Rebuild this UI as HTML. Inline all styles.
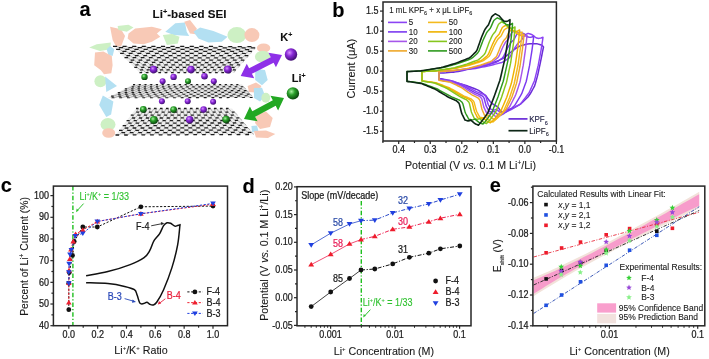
<!DOCTYPE html><html><head><meta charset="utf-8"><style>html,body{margin:0;padding:0;background:#fff;width:709px;height:359px;overflow:hidden;position:relative} svg{filter:blur(0.35px)}</style></head><body><svg width="709" height="359" viewBox="0 0 709 359" style="position:absolute;left:0;top:0">
<defs>
<radialGradient id="gp" cx="0.38" cy="0.35" r="0.7"><stop offset="0" stop-color="#d890ff"/><stop offset="0.4" stop-color="#8a2ad8"/><stop offset="1" stop-color="#3a0a6a"/></radialGradient>
<radialGradient id="gg" cx="0.38" cy="0.35" r="0.7"><stop offset="0" stop-color="#a8f0a0"/><stop offset="0.4" stop-color="#2aa02a"/><stop offset="1" stop-color="#053a08"/></radialGradient>
</defs>
<g font-family='"Liberation Sans", sans-serif'>
<text x="79.50" y="16.30"  font-size="20" text-anchor="start" fill="#000" stroke="#000" stroke-width="0.1" font-weight="bold" >a</text>
<text x="332.30" y="16.70"  font-size="20" text-anchor="start" fill="#000" stroke="#000" stroke-width="0.1" font-weight="bold" >b</text>
<text x="0.80" y="191.70"  font-size="20" text-anchor="start" fill="#000" stroke="#000" stroke-width="0.1" font-weight="bold" >c</text>
<text x="242.50" y="193.00"  font-size="20" text-anchor="start" fill="#000" stroke="#000" stroke-width="0.1" font-weight="bold" >d</text>
<text x="489.80" y="191.70"  font-size="20" text-anchor="start" fill="#000" stroke="#000" stroke-width="0.1" font-weight="bold" >e</text>
<path d="M110.10,26.70 L121.00,29.20 L125.10,35.90 L121.00,46.80 L117.60,49.30 L112.60,40.10 Z" fill="#f8c9b6" stroke="none" stroke-width="1" stroke-linejoin="round"/>
<path d="M117.60,25.90 L128.50,24.70 L133.50,27.50 L126.80,31.70 L118.40,30.00 Z" fill="#cdf0c4" stroke="none" stroke-width="1" stroke-linejoin="round"/>
<path d="M128.50,33.40 L135.20,28.40 L151.90,26.70 L161.90,29.20 L156.90,33.40 L160.30,36.70 L151.90,41.70 L143.50,44.20 L133.50,43.40 L127.60,38.40 Z" fill="#f8c9b6" stroke="none" stroke-width="1" stroke-linejoin="round"/>
<path d="M165.30,31.70 L175.30,23.30 L185.00,22.50 L186.70,31.70 L189.20,35.90 L173.60,35.00 Z" fill="#b3e0f2" stroke="none" stroke-width="1" stroke-linejoin="round"/>
<path d="M162.80,35.00 L172.00,34.00 L179.50,36.70 L177.80,43.40 L166.90,45.10 Z" fill="#cdf0c4" stroke="none" stroke-width="1" stroke-linejoin="round"/>
<path d="M89.20,47.60 L96.70,44.20 L110.90,42.60 L110.10,49.30 L100.00,50.90 Z" fill="#cdf0c4" stroke="none" stroke-width="1" stroke-linejoin="round"/>
<path d="M106.70,49.30 L110.10,45.90 L114.30,49.30 L112.60,56.00 L108.40,55.10 Z" fill="#b3e0f2" stroke="none" stroke-width="1" stroke-linejoin="round"/>
<path d="M95.00,52.60 L103.40,51.60 L111.80,56.00 L112.60,65.20 L111.30,73.30 L104.00,74.20 L100.90,70.20 L94.20,65.20 Z" fill="#f8c9b6" stroke="none" stroke-width="1" stroke-linejoin="round"/>
<path d="M184.20,21.70 L190.00,20.00 L196.70,28.40 L195.90,34.20 L190.00,33.40 Z" fill="#f8c9b6" stroke="none" stroke-width="1" stroke-linejoin="round"/>
<path d="M193.40,31.70 L200.10,27.50 L213.40,30.90 L227.70,36.70 L221.80,41.80 L208.40,42.60 L198.40,38.40 Z" fill="#b3e0f2" stroke="none" stroke-width="1" stroke-linejoin="round"/>
<ellipse cx="236.9" cy="35.1" rx="9.5" ry="8" fill="#cdf0c4"/>
<ellipse cx="251.9" cy="35.1" rx="7.5" ry="7" fill="#f8c9b6"/>
<ellipse cx="263.6" cy="48.1" rx="6.7" ry="4.6" fill="#f8c9b6"/>
<ellipse cx="262.8" cy="56.8" rx="7.9" ry="6" fill="#cdf0c4"/>
<path d="M255.20,68.80 L265.00,70.00 L267.70,80.00 L262.00,85.20 L255.20,80.00 Z" fill="#b3e0f2" stroke="none" stroke-width="1" stroke-linejoin="round"/>
<path d="M247.60,86.00 L256.00,82.60 L261.40,86.00 L258.00,92.70 L249.00,92.00 Z" fill="#f8c9b6" stroke="none" stroke-width="1" stroke-linejoin="round"/>
<path d="M253.90,88.00 L262.00,87.70 L265.20,96.00 L260.00,101.50 L254.00,98.00 Z" fill="#b3e0f2" stroke="none" stroke-width="1" stroke-linejoin="round"/>
<ellipse cx="265.8" cy="97.7" rx="4.4" ry="5" fill="#cdf0c4"/>
<path d="M256.40,115.00 L266.00,111.50 L272.70,118.00 L270.00,127.00 L260.00,129.10 L255.00,123.00 Z" fill="#f8c9b6" stroke="none" stroke-width="1" stroke-linejoin="round"/>
<path d="M251.40,126.00 L257.00,125.40 L258.90,132.90 L252.00,132.00 Z" fill="#b3e0f2" stroke="none" stroke-width="1" stroke-linejoin="round"/>
<path d="M253.90,131.00 L266.00,130.40 L275.30,134.00 L268.00,137.90 L256.00,137.50 Z" fill="#f8c9b6" stroke="none" stroke-width="1" stroke-linejoin="round"/>
<ellipse cx="100.4" cy="81.3" rx="6" ry="6" fill="#cdf0c4"/>
<path d="M105.10,76.60 L117.00,86.10 L106.30,92.00 Z" fill="#b3e0f2" stroke="none" stroke-width="1" stroke-linejoin="round"/>
<path d="M102.80,95.50 L113.40,101.50 L111.10,114.50 L106.30,116.90 L99.20,105.00 Z" fill="#b3e0f2" stroke="none" stroke-width="1" stroke-linejoin="round"/>
<ellipse cx="108" cy="124.5" rx="7.5" ry="6.5" fill="#cdf0c4"/>
<ellipse cx="108.7" cy="133" rx="6.5" ry="4.8" fill="#f8c9b6"/>
<path d="M113.00,46.30 L257.00,46.50 L234.00,72.50 L139.50,72.50 Z" fill="#ededed" stroke="none" stroke-width="1" />
<path d="M117.0,46.3 L119.1,47.6 M126.6,46.3 L128.5,47.6 M122.6,46.3 L123.0,47.6 M136.2,46.3 L137.9,47.7 M132.2,46.3 L132.5,47.7 M145.8,46.3 L147.4,47.7 M141.8,46.3 L141.9,47.7 M155.4,46.4 L156.8,47.7 M151.4,46.4 L151.3,47.7 M165.0,46.4 L166.2,47.7 M161.0,46.4 L160.8,47.7 M174.6,46.4 L175.7,47.7 M170.6,46.4 L170.2,47.7 M184.2,46.4 L185.1,47.7 M180.2,46.4 L179.6,47.7 M193.8,46.4 L194.5,47.7 M189.8,46.4 L189.1,47.7 M203.4,46.4 L204.0,47.7 M199.4,46.4 L198.5,47.7 M213.0,46.4 L213.4,47.8 M209.0,46.4 L207.9,47.8 M222.6,46.5 L222.8,47.8 M218.6,46.4 L217.3,47.8 M232.2,46.5 L232.3,47.8 M228.2,46.5 L226.8,47.8 M241.8,46.5 L241.7,47.8 M237.8,46.5 L236.2,47.8 M251.4,46.5 L251.1,47.8 M247.4,46.5 L245.6,47.8 M123.0,47.6 L125.3,49.4 M119.1,47.6 L120.0,49.4 M132.5,47.7 L134.5,49.4 M128.5,47.6 L129.2,49.4 M141.9,47.7 L143.7,49.4 M137.9,47.7 L138.4,49.4 M151.3,47.7 L152.9,49.4 M147.4,47.7 L147.6,49.4 M160.8,47.7 L162.2,49.4 M156.8,47.7 L156.8,49.4 M170.2,47.7 L171.4,49.4 M166.2,47.7 L166.0,49.4 M179.6,47.7 L180.6,49.4 M175.7,47.7 L175.3,49.4 M189.1,47.7 L189.8,49.4 M185.1,47.7 L184.5,49.4 M198.5,47.7 L199.0,49.5 M194.5,47.7 L193.7,49.5 M207.9,47.8 L208.2,49.5 M204.0,47.7 L202.9,49.5 M217.3,47.8 L217.5,49.5 M213.4,47.8 L212.1,49.5 M226.8,47.8 L226.7,49.5 M222.8,47.8 L221.3,49.5 M236.2,47.8 L235.9,49.5 M232.3,47.8 L230.5,49.5 M245.6,47.8 L245.1,49.5 M241.7,47.8 L239.8,49.5 M255.1,47.8 L254.3,49.5 M251.1,47.8 L249.0,49.5 M120.0,49.4 L122.5,51.3 M129.2,49.4 L131.5,51.3 M125.3,49.4 L126.3,51.3 M138.4,49.4 L140.5,51.3 M134.5,49.4 L135.3,51.3 M147.6,49.4 L149.4,51.3 M143.7,49.4 L144.2,51.3 M156.8,49.4 L158.4,51.3 M152.9,49.4 L153.2,51.3 M166.0,49.4 L167.4,51.3 M162.2,49.4 L162.2,51.3 M175.3,49.4 L176.4,51.3 M171.4,49.4 L171.2,51.3 M184.5,49.4 L185.3,51.3 M180.6,49.4 L180.1,51.3 M193.7,49.5 L194.3,51.4 M189.8,49.4 L189.1,51.3 M202.9,49.5 L203.3,51.4 M199.0,49.5 L198.1,51.4 M212.1,49.5 L212.3,51.4 M208.2,49.5 L207.1,51.4 M221.3,49.5 L221.2,51.4 M217.5,49.5 L216.0,51.4 M230.5,49.5 L230.2,51.4 M226.7,49.5 L225.0,51.4 M239.8,49.5 L239.2,51.4 M235.9,49.5 L234.0,51.4 M249.0,49.5 L248.2,51.4 M245.1,49.5 L242.9,51.4 M126.3,51.3 L128.8,53.3 M122.5,51.3 L123.8,53.3 M135.3,51.3 L137.5,53.3 M131.5,51.3 L132.5,53.3 M144.2,51.3 L146.2,53.3 M140.5,51.3 L141.2,53.3 M153.2,51.3 L155.0,53.3 M149.4,51.3 L149.9,53.3 M162.2,51.3 L163.7,53.4 M158.4,51.3 L158.6,53.4 M171.2,51.3 L172.4,53.4 M167.4,51.3 L167.3,53.4 M180.1,51.3 L181.1,53.4 M176.4,51.3 L176.1,53.4 M189.1,51.3 L189.8,53.4 M185.3,51.3 L184.8,53.4 M198.1,51.4 L198.5,53.4 M194.3,51.4 L193.5,53.4 M207.1,51.4 L207.3,53.4 M203.3,51.4 L202.2,53.4 M216.0,51.4 L216.0,53.4 M212.3,51.4 L210.9,53.4 M225.0,51.4 L224.7,53.4 M221.2,51.4 L219.6,53.4 M234.0,51.4 L233.4,53.4 M230.2,51.4 L228.4,53.4 M242.9,51.4 L242.1,53.4 M239.2,51.4 L237.1,53.4 M251.9,51.4 L250.8,53.5 M248.2,51.4 L245.8,53.5 M123.8,53.3 L126.5,55.5 M132.5,53.3 L134.9,55.5 M128.8,53.3 L130.0,55.5 M141.2,53.3 L143.4,55.5 M137.5,53.3 L138.5,55.5 M149.9,53.3 L151.8,55.5 M146.2,53.3 L146.9,55.5 M158.6,53.4 L160.3,55.5 M155.0,53.3 L155.4,55.5 M167.3,53.4 L168.7,55.5 M163.7,53.4 L163.8,55.5 M176.1,53.4 L177.2,55.5 M172.4,53.4 L172.3,55.5 M184.8,53.4 L185.6,55.5 M181.1,53.4 L180.7,55.5 M193.5,53.4 L194.1,55.5 M189.8,53.4 L189.2,55.5 M202.2,53.4 L202.5,55.5 M198.5,53.4 L197.6,55.5 M210.9,53.4 L210.9,55.6 M207.3,53.4 L206.1,55.5 M219.6,53.4 L219.4,55.6 M216.0,53.4 L214.5,55.6 M228.4,53.4 L227.8,55.6 M224.7,53.4 L222.9,55.6 M237.1,53.4 L236.3,55.6 M233.4,53.4 L231.4,55.6 M245.8,53.5 L244.7,55.6 M242.1,53.4 L239.8,55.6 M130.0,55.5 L132.7,57.7 M126.5,55.5 L128.0,57.7 M138.5,55.5 L140.9,57.7 M134.9,55.5 L136.1,57.7 M146.9,55.5 L149.0,57.7 M143.4,55.5 L144.3,57.7 M155.4,55.5 L157.2,57.7 M151.8,55.5 L152.5,57.7 M163.8,55.5 L165.4,57.7 M160.3,55.5 L160.6,57.7 M172.3,55.5 L173.5,57.7 M168.7,55.5 L168.8,57.7 M180.7,55.5 L181.7,57.8 M177.2,55.5 L176.9,57.8 M189.2,55.5 L189.8,57.8 M185.6,55.5 L185.1,57.8 M197.6,55.5 L198.0,57.8 M194.1,55.5 L193.3,57.8 M206.1,55.5 L206.2,57.8 M202.5,55.5 L201.4,57.8 M214.5,55.6 L214.3,57.8 M210.9,55.6 L209.6,57.8 M222.9,55.6 L222.5,57.8 M219.4,55.6 L217.8,57.8 M231.4,55.6 L230.7,57.8 M227.8,55.6 L225.9,57.8 M239.8,55.6 L238.8,57.8 M236.3,55.6 L234.1,57.8 M248.3,55.6 L247.0,57.8 M244.7,55.6 L242.3,57.8 M128.0,57.7 L130.8,60.0 M136.1,57.7 L138.7,60.0 M132.7,57.7 L134.1,60.0 M144.3,57.7 L146.6,60.0 M140.9,57.7 L142.0,60.0 M152.5,57.7 L154.4,60.0 M149.0,57.7 L149.9,60.0 M160.6,57.7 L162.3,60.1 M157.2,57.7 L157.7,60.0 M168.8,57.7 L170.2,60.1 M165.4,57.7 L165.6,60.1 M176.9,57.8 L178.0,60.1 M173.5,57.7 L173.5,60.1 M185.1,57.8 L185.9,60.1 M181.7,57.8 L181.4,60.1 M193.3,57.8 L193.8,60.1 M189.8,57.8 L189.2,60.1 M201.4,57.8 L201.7,60.1 M198.0,57.8 L197.1,60.1 M209.6,57.8 L209.5,60.1 M206.2,57.8 L205.0,60.1 M217.8,57.8 L217.4,60.1 M214.3,57.8 L212.8,60.1 M225.9,57.8 L225.3,60.1 M222.5,57.8 L220.7,60.1 M234.1,57.8 L233.1,60.1 M230.7,57.8 L228.6,60.1 M242.3,57.8 L241.0,60.1 M238.8,57.8 L236.5,60.1 M134.1,60.0 L136.9,62.4 M130.8,60.0 L132.5,62.4 M142.0,60.0 L144.4,62.4 M138.7,60.0 L140.0,62.4 M149.9,60.0 L152.0,62.4 M146.6,60.0 L147.6,62.4 M157.7,60.0 L159.6,62.4 M154.4,60.0 L155.2,62.4 M165.6,60.1 L167.1,62.4 M162.3,60.1 L162.8,62.4 M173.5,60.1 L174.7,62.4 M170.2,60.1 L170.3,62.4 M181.4,60.1 L182.3,62.4 M178.0,60.1 L177.9,62.4 M189.2,60.1 L189.9,62.4 M185.9,60.1 L185.5,62.4 M197.1,60.1 L197.4,62.5 M193.8,60.1 L193.0,62.4 M205.0,60.1 L205.0,62.5 M201.7,60.1 L200.6,62.5 M212.8,60.1 L212.6,62.5 M209.5,60.1 L208.2,62.5 M220.7,60.1 L220.1,62.5 M217.4,60.1 L215.8,62.5 M228.6,60.1 L227.7,62.5 M225.3,60.1 L223.3,62.5 M236.5,60.1 L235.3,62.5 M233.1,60.1 L230.9,62.5 M244.3,60.1 L242.9,62.5 M241.0,60.1 L238.5,62.5 M132.5,62.4 L135.4,64.9 M140.0,62.4 L142.7,64.9 M136.9,62.4 L138.4,64.9 M147.6,62.4 L149.9,64.9 M144.4,62.4 L145.7,64.9 M155.2,62.4 L157.2,64.9 M152.0,62.4 L153.0,64.9 M162.8,62.4 L164.4,64.9 M159.6,62.4 L160.2,64.9 M170.3,62.4 L171.7,64.9 M167.1,62.4 L167.5,64.9 M177.9,62.4 L179.0,64.9 M174.7,62.4 L174.8,64.9 M185.5,62.4 L186.2,64.9 M182.3,62.4 L182.0,64.9 M193.0,62.4 L193.5,64.9 M189.9,62.4 L189.3,64.9 M200.6,62.5 L200.8,64.9 M197.4,62.5 L196.6,64.9 M208.2,62.5 L208.0,64.9 M205.0,62.5 L203.8,64.9 M215.8,62.5 L215.3,64.9 M212.6,62.5 L211.1,64.9 M223.3,62.5 L222.6,64.9 M220.1,62.5 L218.3,64.9 M230.9,62.5 L229.8,64.9 M227.7,62.5 L225.6,64.9 M238.5,62.5 L237.1,64.9 M235.3,62.5 L232.9,64.9 M138.4,64.9 L141.2,67.4 M135.4,64.9 L137.2,67.4 M145.7,64.9 L148.2,67.4 M142.7,64.9 L144.2,67.4 M153.0,64.9 L155.1,67.4 M149.9,64.9 L151.1,67.4 M160.2,64.9 L162.1,67.4 M157.2,64.9 L158.1,67.4 M167.5,64.9 L169.0,67.4 M164.4,64.9 L165.0,67.4 M174.8,64.9 L176.0,67.4 M171.7,64.9 L172.0,67.4 M182.0,64.9 L182.9,67.4 M179.0,64.9 L178.9,67.4 M189.3,64.9 L189.9,67.4 M186.2,64.9 L185.9,67.4 M196.6,64.9 L196.8,67.4 M193.5,64.9 L192.8,67.4 M203.8,64.9 L203.8,67.4 M200.8,64.9 L199.7,67.4 M211.1,64.9 L210.7,67.4 M208.0,64.9 L206.7,67.4 M218.3,64.9 L217.7,67.4 M215.3,64.9 L213.6,67.4 M225.6,64.9 L224.6,67.4 M222.6,64.9 L220.6,67.4 M232.9,64.9 L231.6,67.4 M229.8,64.9 L227.5,67.4 M240.1,64.9 L238.5,67.4 M237.1,64.9 L234.5,67.4 M137.2,67.4 L140.2,69.9 M144.2,67.4 L146.8,69.9 M141.2,67.4 L143.0,69.9 M151.1,67.4 L153.4,69.9 M148.2,67.4 L149.6,69.9 M158.1,67.4 L160.1,69.9 M155.1,67.4 L156.2,69.9 M165.0,67.4 L166.7,69.9 M162.1,67.4 L162.9,69.9 M172.0,67.4 L173.3,69.9 M169.0,67.4 L169.5,69.9 M178.9,67.4 L179.9,69.9 M176.0,67.4 L176.1,69.9 M185.9,67.4 L186.6,69.9 M182.9,67.4 L182.7,69.9 M192.8,67.4 L193.2,69.9 M189.9,67.4 L189.4,69.9 M199.7,67.4 L199.8,69.9 M196.8,67.4 L196.0,69.9 M206.7,67.4 L206.5,69.9 M203.8,67.4 L202.6,69.9 M213.6,67.4 L213.1,69.9 M210.7,67.4 L209.2,69.9 M220.6,67.4 L219.7,69.9 M217.7,67.4 L215.9,69.9 M227.5,67.4 L226.3,69.9 M224.6,67.4 L222.5,69.9 M234.5,67.4 L233.0,69.9 M231.6,67.4 L229.1,69.9 M143.0,69.9 L145.8,72.5 M140.2,69.9 L142.1,72.5 M149.6,69.9 L152.1,72.5 M146.8,69.9 L148.4,72.5 M156.2,69.9 L158.4,72.5 M153.4,69.9 L154.7,72.5 M162.9,69.9 L164.7,72.5 M160.1,69.9 L161.0,72.5 M169.5,69.9 L171.0,72.5 M166.7,69.9 L167.3,72.5 M176.1,69.9 L177.3,72.5 M173.3,69.9 L173.6,72.5 M182.7,69.9 L183.6,72.5 M179.9,69.9 L179.9,72.5 M189.4,69.9 L189.9,72.5 M186.6,69.9 L186.2,72.5 M196.0,69.9 L196.2,72.5 M193.2,69.9 L192.5,72.5 M202.6,69.9 L202.5,72.5 M199.8,69.9 L198.8,72.5 M209.2,69.9 L208.8,72.5 M206.5,69.9 L205.1,72.5 M215.9,69.9 L215.1,72.5 M213.1,69.9 L211.4,72.5 M222.5,69.9 L221.4,72.5 M219.7,69.9 L217.7,72.5 M229.1,69.9 L227.7,72.5 M226.3,69.9 L224.0,72.5 M235.8,69.9 L234.0,72.5 M233.0,69.9 L230.3,72.5" fill="none" stroke="#707070" stroke-width="0.5"/>
<path d="M113.0,46.3 L117.0,46.3 M122.6,46.3 L126.6,46.3 M132.2,46.3 L136.2,46.3 M141.8,46.3 L145.8,46.3 M151.4,46.4 L155.4,46.4 M161.0,46.4 L165.0,46.4 M170.6,46.4 L174.6,46.4 M180.2,46.4 L184.2,46.4 M189.8,46.4 L193.8,46.4 M199.4,46.4 L203.4,46.4 M209.0,46.4 L213.0,46.4 M218.6,46.4 L222.6,46.5 M228.2,46.5 L232.2,46.5 M237.8,46.5 L241.8,46.5 M247.4,46.5 L251.4,46.5 M119.1,47.6 L123.0,47.6 M128.5,47.6 L132.5,47.7 M137.9,47.7 L141.9,47.7 M147.4,47.7 L151.3,47.7 M156.8,47.7 L160.8,47.7 M166.2,47.7 L170.2,47.7 M175.7,47.7 L179.6,47.7 M185.1,47.7 L189.1,47.7 M194.5,47.7 L198.5,47.7 M204.0,47.7 L207.9,47.8 M213.4,47.8 L217.3,47.8 M222.8,47.8 L226.8,47.8 M232.3,47.8 L236.2,47.8 M241.7,47.8 L245.6,47.8 M251.1,47.8 L255.1,47.8 M116.1,49.4 L120.0,49.4 M125.3,49.4 L129.2,49.4 M134.5,49.4 L138.4,49.4 M143.7,49.4 L147.6,49.4 M152.9,49.4 L156.8,49.4 M162.2,49.4 L166.0,49.4 M171.4,49.4 L175.3,49.4 M180.6,49.4 L184.5,49.4 M189.8,49.4 L193.7,49.5 M199.0,49.5 L202.9,49.5 M208.2,49.5 L212.1,49.5 M217.5,49.5 L221.3,49.5 M226.7,49.5 L230.5,49.5 M235.9,49.5 L239.8,49.5 M245.1,49.5 L249.0,49.5 M122.5,51.3 L126.3,51.3 M131.5,51.3 L135.3,51.3 M140.5,51.3 L144.2,51.3 M149.4,51.3 L153.2,51.3 M158.4,51.3 L162.2,51.3 M167.4,51.3 L171.2,51.3 M176.4,51.3 L180.1,51.3 M185.3,51.3 L189.1,51.3 M194.3,51.4 L198.1,51.4 M203.3,51.4 L207.1,51.4 M212.3,51.4 L216.0,51.4 M221.2,51.4 L225.0,51.4 M230.2,51.4 L234.0,51.4 M239.2,51.4 L242.9,51.4 M248.2,51.4 L251.9,51.4 M120.1,53.3 L123.8,53.3 M128.8,53.3 L132.5,53.3 M137.5,53.3 L141.2,53.3 M146.2,53.3 L149.9,53.3 M155.0,53.3 L158.6,53.4 M163.7,53.4 L167.3,53.4 M172.4,53.4 L176.1,53.4 M181.1,53.4 L184.8,53.4 M189.8,53.4 L193.5,53.4 M198.5,53.4 L202.2,53.4 M207.3,53.4 L210.9,53.4 M216.0,53.4 L219.6,53.4 M224.7,53.4 L228.4,53.4 M233.4,53.4 L237.1,53.4 M242.1,53.4 L245.8,53.5 M126.5,55.5 L130.0,55.5 M134.9,55.5 L138.5,55.5 M143.4,55.5 L146.9,55.5 M151.8,55.5 L155.4,55.5 M160.3,55.5 L163.8,55.5 M168.7,55.5 L172.3,55.5 M177.2,55.5 L180.7,55.5 M185.6,55.5 L189.2,55.5 M194.1,55.5 L197.6,55.5 M202.5,55.5 L206.1,55.5 M210.9,55.6 L214.5,55.6 M219.4,55.6 L222.9,55.6 M227.8,55.6 L231.4,55.6 M236.3,55.6 L239.8,55.6 M244.7,55.6 L248.3,55.6 M124.5,57.7 L128.0,57.7 M132.7,57.7 L136.1,57.7 M140.9,57.7 L144.3,57.7 M149.0,57.7 L152.5,57.7 M157.2,57.7 L160.6,57.7 M165.4,57.7 L168.8,57.7 M173.5,57.7 L176.9,57.8 M181.7,57.8 L185.1,57.8 M189.8,57.8 L193.3,57.8 M198.0,57.8 L201.4,57.8 M206.2,57.8 L209.6,57.8 M214.3,57.8 L217.8,57.8 M222.5,57.8 L225.9,57.8 M230.7,57.8 L234.1,57.8 M238.8,57.8 L242.3,57.8 M130.8,60.0 L134.1,60.0 M138.7,60.0 L142.0,60.0 M146.6,60.0 L149.9,60.0 M154.4,60.0 L157.7,60.0 M162.3,60.1 L165.6,60.1 M170.2,60.1 L173.5,60.1 M178.0,60.1 L181.4,60.1 M185.9,60.1 L189.2,60.1 M193.8,60.1 L197.1,60.1 M201.7,60.1 L205.0,60.1 M209.5,60.1 L212.8,60.1 M217.4,60.1 L220.7,60.1 M225.3,60.1 L228.6,60.1 M233.1,60.1 L236.5,60.1 M241.0,60.1 L244.3,60.1 M129.3,62.4 L132.5,62.4 M136.9,62.4 L140.0,62.4 M144.4,62.4 L147.6,62.4 M152.0,62.4 L155.2,62.4 M159.6,62.4 L162.8,62.4 M167.1,62.4 L170.3,62.4 M174.7,62.4 L177.9,62.4 M182.3,62.4 L185.5,62.4 M189.9,62.4 L193.0,62.4 M197.4,62.5 L200.6,62.5 M205.0,62.5 L208.2,62.5 M212.6,62.5 L215.8,62.5 M220.1,62.5 L223.3,62.5 M227.7,62.5 L230.9,62.5 M235.3,62.5 L238.5,62.5 M135.4,64.9 L138.4,64.9 M142.7,64.9 L145.7,64.9 M149.9,64.9 L153.0,64.9 M157.2,64.9 L160.2,64.9 M164.4,64.9 L167.5,64.9 M171.7,64.9 L174.8,64.9 M179.0,64.9 L182.0,64.9 M186.2,64.9 L189.3,64.9 M193.5,64.9 L196.6,64.9 M200.8,64.9 L203.8,64.9 M208.0,64.9 L211.1,64.9 M215.3,64.9 L218.3,64.9 M222.6,64.9 L225.6,64.9 M229.8,64.9 L232.9,64.9 M237.1,64.9 L240.1,64.9 M134.3,67.4 L137.2,67.4 M141.2,67.4 L144.2,67.4 M148.2,67.4 L151.1,67.4 M155.1,67.4 L158.1,67.4 M162.1,67.4 L165.0,67.4 M169.0,67.4 L172.0,67.4 M176.0,67.4 L178.9,67.4 M182.9,67.4 L185.9,67.4 M189.9,67.4 L192.8,67.4 M196.8,67.4 L199.7,67.4 M203.8,67.4 L206.7,67.4 M210.7,67.4 L213.6,67.4 M217.7,67.4 L220.6,67.4 M224.6,67.4 L227.5,67.4 M231.6,67.4 L234.5,67.4 M140.2,69.9 L143.0,69.9 M146.8,69.9 L149.6,69.9 M153.4,69.9 L156.2,69.9 M160.1,69.9 L162.9,69.9 M166.7,69.9 L169.5,69.9 M173.3,69.9 L176.1,69.9 M179.9,69.9 L182.7,69.9 M186.6,69.9 L189.4,69.9 M193.2,69.9 L196.0,69.9 M199.8,69.9 L202.6,69.9 M206.5,69.9 L209.2,69.9 M213.1,69.9 L215.9,69.9 M219.7,69.9 L222.5,69.9 M226.3,69.9 L229.1,69.9 M233.0,69.9 L235.8,69.9 M139.5,72.5 L142.1,72.5 M145.8,72.5 L148.4,72.5 M152.1,72.5 L154.7,72.5 M158.4,72.5 L161.0,72.5 M164.7,72.5 L167.3,72.5 M171.0,72.5 L173.6,72.5 M177.3,72.5 L179.9,72.5 M183.6,72.5 L186.2,72.5 M189.9,72.5 L192.5,72.5 M196.2,72.5 L198.8,72.5 M202.5,72.5 L205.1,72.5 M208.8,72.5 L211.4,72.5 M215.1,72.5 L217.7,72.5 M221.4,72.5 L224.0,72.5 M227.7,72.5 L230.3,72.5" fill="none" stroke="#1c1c1c" stroke-width="1.25"/>
<path d="M133.00,84.60 L242.00,84.60 L253.70,97.50 L107.80,97.80 Z" fill="#e4e4e4" stroke="none" stroke-width="1" />
<path d="M135.1,84.6 L131.7,86.9 M140.8,84.6 L137.7,86.9 M138.7,84.6 L133.9,86.9 M146.5,84.6 L143.8,86.9 M144.5,84.6 L139.9,86.9 M152.3,84.6 L149.9,86.9 M150.2,84.6 L146.0,86.9 M158.0,84.6 L156.0,86.9 M155.9,84.6 L152.1,86.9 M163.7,84.6 L162.0,86.9 M161.7,84.6 L158.1,86.9 M169.5,84.6 L168.1,86.9 M167.4,84.6 L164.2,86.9 M175.2,84.6 L174.2,86.9 M173.2,84.6 L170.3,86.9 M181.0,84.6 L180.3,86.9 M178.9,84.6 L176.4,86.9 M186.7,84.6 L186.3,86.9 M184.6,84.6 L182.4,86.9 M192.4,84.6 L192.4,86.9 M190.4,84.6 L188.5,86.9 M198.2,84.6 L198.5,86.9 M196.1,84.6 L194.6,86.9 M203.9,84.6 L204.6,86.9 M201.8,84.6 L200.7,86.9 M209.6,84.6 L210.6,86.9 M207.6,84.6 L206.7,86.9 M215.4,84.6 L216.7,86.9 M213.3,84.6 L212.8,86.9 M221.1,84.6 L222.8,86.8 M219.1,84.6 L218.9,86.9 M226.9,84.6 L228.8,86.8 M224.8,84.6 L225.0,86.8 M232.6,84.6 L234.9,86.8 M230.5,84.6 L231.0,86.8 M238.3,84.6 L241.0,86.8 M236.3,84.6 L237.1,86.8 M133.9,86.9 L131.2,88.9 M131.7,86.9 L127.1,88.9 M139.9,86.9 L137.6,88.9 M137.7,86.9 L133.5,88.9 M146.0,86.9 L143.9,88.9 M143.8,86.9 L139.9,88.9 M152.1,86.9 L150.3,88.9 M149.9,86.9 L146.2,88.9 M158.1,86.9 L156.7,88.8 M156.0,86.9 L152.6,88.9 M164.2,86.9 L163.0,88.8 M162.0,86.9 L159.0,88.8 M170.3,86.9 L169.4,88.8 M168.1,86.9 L165.3,88.8 M176.4,86.9 L175.8,88.8 M174.2,86.9 L171.7,88.8 M182.4,86.9 L182.1,88.8 M180.3,86.9 L178.1,88.8 M188.5,86.9 L188.5,88.8 M186.3,86.9 L184.4,88.8 M194.6,86.9 L194.9,88.8 M192.4,86.9 L190.8,88.8 M200.7,86.9 L201.2,88.8 M198.5,86.9 L197.2,88.8 M206.7,86.9 L207.6,88.8 M204.6,86.9 L203.5,88.8 M212.8,86.9 L214.0,88.8 M210.6,86.9 L209.9,88.8 M218.9,86.9 L220.3,88.8 M216.7,86.9 L216.3,88.8 M225.0,86.8 L226.7,88.8 M222.8,86.8 L222.6,88.8 M231.0,86.8 L233.1,88.8 M228.8,86.8 L229.0,88.8 M237.1,86.8 L239.4,88.8 M234.9,86.8 L235.3,88.8 M243.2,86.8 L245.8,88.8 M241.0,86.8 L241.7,88.8 M127.1,88.9 L124.6,90.8 M133.5,88.9 L131.2,90.7 M131.2,88.9 L127.0,90.8 M139.9,88.9 L137.9,90.7 M137.6,88.9 L133.6,90.7 M146.2,88.9 L144.5,90.7 M143.9,88.9 L140.2,90.7 M152.6,88.9 L151.1,90.7 M150.3,88.9 L146.9,90.7 M159.0,88.8 L157.8,90.7 M156.7,88.8 L153.5,90.7 M165.3,88.8 L164.4,90.7 M163.0,88.8 L160.2,90.7 M171.7,88.8 L171.1,90.7 M169.4,88.8 L166.8,90.7 M178.1,88.8 L177.7,90.7 M175.8,88.8 L173.5,90.7 M184.4,88.8 L184.4,90.7 M182.1,88.8 L180.1,90.7 M190.8,88.8 L191.0,90.7 M188.5,88.8 L186.7,90.7 M197.2,88.8 L197.6,90.7 M194.9,88.8 L193.4,90.7 M203.5,88.8 L204.3,90.7 M201.2,88.8 L200.0,90.7 M209.9,88.8 L210.9,90.7 M207.6,88.8 L206.7,90.7 M216.3,88.8 L217.6,90.7 M214.0,88.8 L213.3,90.7 M222.6,88.8 L224.2,90.6 M220.3,88.8 L220.0,90.6 M229.0,88.8 L230.9,90.6 M226.7,88.8 L226.6,90.6 M235.3,88.8 L237.5,90.6 M233.1,88.8 L233.2,90.6 M241.7,88.8 L244.1,90.6 M239.4,88.8 L239.9,90.6 M127.0,90.8 L124.7,92.6 M124.6,90.8 L120.3,92.6 M133.6,90.7 L131.6,92.6 M131.2,90.7 L127.2,92.6 M140.2,90.7 L138.5,92.5 M137.9,90.7 L134.1,92.6 M146.9,90.7 L145.4,92.5 M144.5,90.7 L141.0,92.5 M153.5,90.7 L152.3,92.5 M151.1,90.7 L147.9,92.5 M160.2,90.7 L159.2,92.5 M157.8,90.7 L154.8,92.5 M166.8,90.7 L166.1,92.5 M164.4,90.7 L161.7,92.5 M173.5,90.7 L173.1,92.5 M171.1,90.7 L168.6,92.5 M180.1,90.7 L180.0,92.5 M177.7,90.7 L175.5,92.5 M186.7,90.7 L186.9,92.5 M184.4,90.7 L182.5,92.5 M193.4,90.7 L193.8,92.5 M191.0,90.7 L189.4,92.5 M200.0,90.7 L200.7,92.5 M197.6,90.7 L196.3,92.5 M206.7,90.7 L207.6,92.5 M204.3,90.7 L203.2,92.5 M213.3,90.7 L214.5,92.4 M210.9,90.7 L210.1,92.4 M220.0,90.6 L221.4,92.4 M217.6,90.7 L217.0,92.4 M226.6,90.6 L228.3,92.4 M224.2,90.6 L223.9,92.4 M233.2,90.6 L235.2,92.4 M230.9,90.6 L230.8,92.4 M239.9,90.6 L242.2,92.4 M237.5,90.6 L237.7,92.4 M246.5,90.6 L249.1,92.4 M244.1,90.6 L244.6,92.4 M120.3,92.6 L118.0,94.3 M127.2,92.6 L125.1,94.3 M124.7,92.6 L120.6,94.3 M134.1,92.6 L132.3,94.3 M131.6,92.6 L127.7,94.3 M141.0,92.5 L139.5,94.3 M138.5,92.5 L134.9,94.3 M147.9,92.5 L146.7,94.3 M145.4,92.5 L142.1,94.3 M154.8,92.5 L153.8,94.3 M152.3,92.5 L149.2,94.3 M161.7,92.5 L161.0,94.3 M159.2,92.5 L156.4,94.3 M168.6,92.5 L168.2,94.3 M166.1,92.5 L163.6,94.3 M175.5,92.5 L175.3,94.3 M173.1,92.5 L170.8,94.3 M182.5,92.5 L182.5,94.2 M180.0,92.5 L177.9,94.2 M189.4,92.5 L189.7,94.2 M186.9,92.5 L185.1,94.2 M196.3,92.5 L196.9,94.2 M193.8,92.5 L192.3,94.2 M203.2,92.5 L204.0,94.2 M200.7,92.5 L199.4,94.2 M210.1,92.4 L211.2,94.2 M207.6,92.5 L206.6,94.2 M217.0,92.4 L218.4,94.2 M214.5,92.4 L213.8,94.2 M223.9,92.4 L225.5,94.2 M221.4,92.4 L221.0,94.2 M230.8,92.4 L232.7,94.2 M228.3,92.4 L228.1,94.2 M237.7,92.4 L239.9,94.1 M235.2,92.4 L235.3,94.2 M244.6,92.4 L247.1,94.1 M242.2,92.4 L242.5,94.1 M120.6,94.3 L118.5,96.1 M118.0,94.3 L113.7,96.1 M127.7,94.3 L125.9,96.1 M125.1,94.3 L121.2,96.1 M134.9,94.3 L133.3,96.0 M132.3,94.3 L128.6,96.1 M142.1,94.3 L140.8,96.0 M139.5,94.3 L136.0,96.0 M149.2,94.3 L148.2,96.0 M146.7,94.3 L143.4,96.0 M156.4,94.3 L155.6,96.0 M153.8,94.3 L150.9,96.0 M163.6,94.3 L163.1,96.0 M161.0,94.3 L158.3,96.0 M170.8,94.3 L170.5,96.0 M168.2,94.3 L165.7,96.0 M177.9,94.2 L177.9,96.0 M175.3,94.3 L173.2,96.0 M185.1,94.2 L185.3,96.0 M182.5,94.2 L180.6,96.0 M192.3,94.2 L192.8,95.9 M189.7,94.2 L188.0,95.9 M199.4,94.2 L200.2,95.9 M196.9,94.2 L195.4,95.9 M206.6,94.2 L207.6,95.9 M204.0,94.2 L202.9,95.9 M213.8,94.2 L215.0,95.9 M211.2,94.2 L210.3,95.9 M221.0,94.2 L222.5,95.9 M218.4,94.2 L217.7,95.9 M228.1,94.2 L229.9,95.9 M225.5,94.2 L225.1,95.9 M235.3,94.2 L237.3,95.9 M232.7,94.2 L232.6,95.9 M242.5,94.1 L244.8,95.8 M239.9,94.1 L240.0,95.9 M249.6,94.1 L252.2,95.8 M247.1,94.1 L247.4,95.8 M113.7,96.1 L111.6,97.8 M121.2,96.1 L119.3,97.8 M118.5,96.1 L114.4,97.8 M128.6,96.1 L127.0,97.8 M125.9,96.1 L122.1,97.8 M136.0,96.0 L134.7,97.7 M133.3,96.0 L129.8,97.8 M143.4,96.0 L142.4,97.7 M140.8,96.0 L137.4,97.7 M150.9,96.0 L150.0,97.7 M148.2,96.0 L145.1,97.7 M158.3,96.0 L157.7,97.7 M155.6,96.0 L152.8,97.7 M165.7,96.0 L165.4,97.7 M163.1,96.0 L160.5,97.7 M173.2,96.0 L173.1,97.7 M170.5,96.0 L168.2,97.7 M180.6,96.0 L180.8,97.7 M177.9,96.0 L175.8,97.7 M188.0,95.9 L188.4,97.6 M185.3,96.0 L183.5,97.6 M195.4,95.9 L196.1,97.6 M192.8,95.9 L191.2,97.6 M202.9,95.9 L203.8,97.6 M200.2,95.9 L198.9,97.6 M210.3,95.9 L211.5,97.6 M207.6,95.9 L206.6,97.6 M217.7,95.9 L219.1,97.6 M215.0,95.9 L214.2,97.6 M225.1,95.9 L226.8,97.6 M222.5,95.9 L221.9,97.6 M232.6,95.9 L234.5,97.5 M229.9,95.9 L229.6,97.5 M240.0,95.9 L242.2,97.5 M237.3,95.9 L237.3,97.5 M247.4,95.8 L249.9,97.5 M244.8,95.8 L244.9,97.5" fill="none" stroke="#777" stroke-width="0.5"/>
<path d="M133.0,84.6 L135.1,84.6 M138.7,84.6 L140.8,84.6 M144.5,84.6 L146.5,84.6 M150.2,84.6 L152.3,84.6 M155.9,84.6 L158.0,84.6 M161.7,84.6 L163.7,84.6 M167.4,84.6 L169.5,84.6 M173.2,84.6 L175.2,84.6 M178.9,84.6 L181.0,84.6 M184.6,84.6 L186.7,84.6 M190.4,84.6 L192.4,84.6 M196.1,84.6 L198.2,84.6 M201.8,84.6 L203.9,84.6 M207.6,84.6 L209.6,84.6 M213.3,84.6 L215.4,84.6 M219.1,84.6 L221.1,84.6 M224.8,84.6 L226.9,84.6 M230.5,84.6 L232.6,84.6 M236.3,84.6 L238.3,84.6 M131.7,86.9 L133.9,86.9 M137.7,86.9 L139.9,86.9 M143.8,86.9 L146.0,86.9 M149.9,86.9 L152.1,86.9 M156.0,86.9 L158.1,86.9 M162.0,86.9 L164.2,86.9 M168.1,86.9 L170.3,86.9 M174.2,86.9 L176.4,86.9 M180.3,86.9 L182.4,86.9 M186.3,86.9 L188.5,86.9 M192.4,86.9 L194.6,86.9 M198.5,86.9 L200.7,86.9 M204.6,86.9 L206.7,86.9 M210.6,86.9 L212.8,86.9 M216.7,86.9 L218.9,86.9 M222.8,86.8 L225.0,86.8 M228.8,86.8 L231.0,86.8 M234.9,86.8 L237.1,86.8 M241.0,86.8 L243.2,86.8 M124.8,88.9 L127.1,88.9 M131.2,88.9 L133.5,88.9 M137.6,88.9 L139.9,88.9 M143.9,88.9 L146.2,88.9 M150.3,88.9 L152.6,88.9 M156.7,88.8 L159.0,88.8 M163.0,88.8 L165.3,88.8 M169.4,88.8 L171.7,88.8 M175.8,88.8 L178.1,88.8 M182.1,88.8 L184.4,88.8 M188.5,88.8 L190.8,88.8 M194.9,88.8 L197.2,88.8 M201.2,88.8 L203.5,88.8 M207.6,88.8 L209.9,88.8 M214.0,88.8 L216.3,88.8 M220.3,88.8 L222.6,88.8 M226.7,88.8 L229.0,88.8 M233.1,88.8 L235.3,88.8 M239.4,88.8 L241.7,88.8 M124.6,90.8 L127.0,90.8 M131.2,90.7 L133.6,90.7 M137.9,90.7 L140.2,90.7 M144.5,90.7 L146.9,90.7 M151.1,90.7 L153.5,90.7 M157.8,90.7 L160.2,90.7 M164.4,90.7 L166.8,90.7 M171.1,90.7 L173.5,90.7 M177.7,90.7 L180.1,90.7 M184.4,90.7 L186.7,90.7 M191.0,90.7 L193.4,90.7 M197.6,90.7 L200.0,90.7 M204.3,90.7 L206.7,90.7 M210.9,90.7 L213.3,90.7 M217.6,90.7 L220.0,90.6 M224.2,90.6 L226.6,90.6 M230.9,90.6 L233.2,90.6 M237.5,90.6 L239.9,90.6 M244.1,90.6 L246.5,90.6 M117.8,92.6 L120.3,92.6 M124.7,92.6 L127.2,92.6 M131.6,92.6 L134.1,92.6 M138.5,92.5 L141.0,92.5 M145.4,92.5 L147.9,92.5 M152.3,92.5 L154.8,92.5 M159.2,92.5 L161.7,92.5 M166.1,92.5 L168.6,92.5 M173.1,92.5 L175.5,92.5 M180.0,92.5 L182.5,92.5 M186.9,92.5 L189.4,92.5 M193.8,92.5 L196.3,92.5 M200.7,92.5 L203.2,92.5 M207.6,92.5 L210.1,92.4 M214.5,92.4 L217.0,92.4 M221.4,92.4 L223.9,92.4 M228.3,92.4 L230.8,92.4 M235.2,92.4 L237.7,92.4 M242.2,92.4 L244.6,92.4 M118.0,94.3 L120.6,94.3 M125.1,94.3 L127.7,94.3 M132.3,94.3 L134.9,94.3 M139.5,94.3 L142.1,94.3 M146.7,94.3 L149.2,94.3 M153.8,94.3 L156.4,94.3 M161.0,94.3 L163.6,94.3 M168.2,94.3 L170.8,94.3 M175.3,94.3 L177.9,94.2 M182.5,94.2 L185.1,94.2 M189.7,94.2 L192.3,94.2 M196.9,94.2 L199.4,94.2 M204.0,94.2 L206.6,94.2 M211.2,94.2 L213.8,94.2 M218.4,94.2 L221.0,94.2 M225.5,94.2 L228.1,94.2 M232.7,94.2 L235.3,94.2 M239.9,94.1 L242.5,94.1 M247.1,94.1 L249.6,94.1 M111.1,96.1 L113.7,96.1 M118.5,96.1 L121.2,96.1 M125.9,96.1 L128.6,96.1 M133.3,96.0 L136.0,96.0 M140.8,96.0 L143.4,96.0 M148.2,96.0 L150.9,96.0 M155.6,96.0 L158.3,96.0 M163.1,96.0 L165.7,96.0 M170.5,96.0 L173.2,96.0 M177.9,96.0 L180.6,96.0 M185.3,96.0 L188.0,95.9 M192.8,95.9 L195.4,95.9 M200.2,95.9 L202.9,95.9 M207.6,95.9 L210.3,95.9 M215.0,95.9 L217.7,95.9 M222.5,95.9 L225.1,95.9 M229.9,95.9 L232.6,95.9 M237.3,95.9 L240.0,95.9 M244.8,95.8 L247.4,95.8 M111.6,97.8 L114.4,97.8 M119.3,97.8 L122.1,97.8 M127.0,97.8 L129.8,97.8 M134.7,97.7 L137.4,97.7 M142.4,97.7 L145.1,97.7 M150.0,97.7 L152.8,97.7 M157.7,97.7 L160.5,97.7 M165.4,97.7 L168.2,97.7 M173.1,97.7 L175.8,97.7 M180.8,97.7 L183.5,97.6 M188.4,97.6 L191.2,97.6 M196.1,97.6 L198.9,97.6 M203.8,97.6 L206.6,97.6 M211.5,97.6 L214.2,97.6 M219.1,97.6 L221.9,97.6 M226.8,97.6 L229.6,97.5 M234.5,97.5 L237.3,97.5 M242.2,97.5 L244.9,97.5 M249.9,97.5 L252.6,97.5" fill="none" stroke="#1c1c1c" stroke-width="1.1"/>
<path d="M136.00,108.50 L232.00,108.50 L254.00,134.50 L115.50,135.00 Z" fill="#ededed" stroke="none" stroke-width="1" />
<path d="M138.5,108.5 L136.3,112.2 M144.5,108.5 L142.7,112.2 M142.0,108.5 L139.0,112.2 M150.5,108.5 L149.0,112.2 M148.0,108.5 L145.3,112.2 M156.5,108.5 L155.4,112.2 M154.0,108.5 L151.7,112.2 M162.5,108.5 L161.8,112.2 M160.0,108.5 L158.1,112.2 M168.5,108.5 L168.2,112.2 M166.0,108.5 L164.5,112.2 M174.5,108.5 L174.5,112.2 M172.0,108.5 L170.8,112.2 M180.5,108.5 L180.9,112.2 M178.0,108.5 L177.2,112.2 M186.5,108.5 L187.3,112.2 M184.0,108.5 L183.6,112.2 M192.5,108.5 L193.7,112.2 M190.0,108.5 L190.0,112.2 M198.5,108.5 L200.0,112.2 M196.0,108.5 L196.3,112.2 M204.5,108.5 L206.4,112.2 M202.0,108.5 L202.7,112.2 M210.5,108.5 L212.8,112.2 M208.0,108.5 L209.1,112.2 M216.5,108.5 L219.2,112.2 M214.0,108.5 L215.5,112.2 M222.5,108.5 L225.5,112.2 M220.0,108.5 L221.8,112.2 M228.5,108.5 L231.9,112.2 M226.0,108.5 L228.2,112.2 M139.0,112.2 L137.5,115.2 M136.3,112.2 L133.6,115.2 M145.3,112.2 L144.1,115.2 M142.7,112.2 L140.3,115.2 M151.7,112.2 L150.8,115.2 M149.0,112.2 L146.9,115.2 M158.1,112.2 L157.5,115.2 M155.4,112.2 L153.6,115.2 M164.5,112.2 L164.2,115.2 M161.8,112.2 L160.3,115.2 M170.8,112.2 L170.8,115.2 M168.2,112.2 L167.0,115.2 M177.2,112.2 L177.5,115.2 M174.5,112.2 L173.6,115.2 M183.6,112.2 L184.2,115.2 M180.9,112.2 L180.3,115.2 M190.0,112.2 L190.9,115.2 M187.3,112.2 L187.0,115.2 M196.3,112.2 L197.5,115.2 M193.7,112.2 L193.7,115.2 M202.7,112.2 L204.2,115.2 M200.0,112.2 L200.3,115.2 M209.1,112.2 L210.9,115.2 M206.4,112.2 L207.0,115.2 M215.5,112.2 L217.6,115.1 M212.8,112.2 L213.7,115.1 M221.8,112.2 L224.2,115.1 M219.2,112.2 L220.4,115.1 M228.2,112.2 L230.9,115.1 M225.5,112.2 L227.1,115.1 M234.6,112.2 L237.6,115.1 M231.9,112.2 L233.7,115.1 M133.6,115.2 L132.1,118.0 M140.3,115.2 L139.1,118.0 M137.5,115.2 L135.0,118.0 M146.9,115.2 L146.0,118.0 M144.1,115.2 L142.0,118.0 M153.6,115.2 L153.0,118.0 M150.8,115.2 L148.9,118.0 M160.3,115.2 L159.9,118.0 M157.5,115.2 L155.9,118.0 M167.0,115.2 L166.9,118.0 M164.2,115.2 L162.8,118.0 M173.6,115.2 L173.8,118.0 M170.8,115.2 L169.8,118.0 M180.3,115.2 L180.8,117.9 M177.5,115.2 L176.8,117.9 M187.0,115.2 L187.7,117.9 M184.2,115.2 L183.7,117.9 M193.7,115.2 L194.7,117.9 M190.9,115.2 L190.7,117.9 M200.3,115.2 L201.7,117.9 M197.5,115.2 L197.6,117.9 M207.0,115.2 L208.6,117.9 M204.2,115.2 L204.6,117.9 M213.7,115.1 L215.6,117.9 M210.9,115.2 L211.5,117.9 M220.4,115.1 L222.5,117.9 M217.6,115.1 L218.5,117.9 M227.1,115.1 L229.5,117.9 M224.2,115.1 L225.4,117.9 M233.7,115.1 L236.4,117.8 M230.9,115.1 L232.4,117.9 M135.0,118.0 L133.8,120.6 M132.1,118.0 L129.6,120.7 M142.0,118.0 L141.0,120.6 M139.1,118.0 L136.8,120.6 M148.9,118.0 L148.2,120.6 M146.0,118.0 L144.1,120.6 M155.9,118.0 L155.5,120.6 M153.0,118.0 L151.3,120.6 M162.8,118.0 L162.7,120.6 M159.9,118.0 L158.5,120.6 M169.8,118.0 L169.9,120.6 M166.9,118.0 L165.7,120.6 M176.8,117.9 L177.1,120.6 M173.8,118.0 L172.9,120.6 M183.7,117.9 L184.3,120.5 M180.8,117.9 L180.2,120.6 M190.7,117.9 L191.6,120.5 M187.7,117.9 L187.4,120.5 M197.6,117.9 L198.8,120.5 M194.7,117.9 L194.6,120.5 M204.6,117.9 L206.0,120.5 M201.7,117.9 L201.8,120.5 M211.5,117.9 L213.2,120.5 M208.6,117.9 L209.0,120.5 M218.5,117.9 L220.4,120.5 M215.6,117.9 L216.3,120.5 M225.4,117.9 L227.7,120.5 M222.5,117.9 L223.5,120.5 M232.4,117.9 L234.9,120.4 M229.5,117.9 L230.7,120.5 M239.3,117.8 L242.1,120.4 M236.4,117.8 L237.9,120.4 M129.6,120.7 L128.4,123.2 M136.8,120.6 L135.8,123.2 M133.8,120.6 L131.5,123.2 M144.1,120.6 L143.3,123.2 M141.0,120.6 L139.0,123.2 M151.3,120.6 L150.8,123.1 M148.2,120.6 L146.4,123.2 M158.5,120.6 L158.3,123.1 M155.5,120.6 L153.9,123.1 M165.7,120.6 L165.7,123.1 M162.7,120.6 L161.4,123.1 M172.9,120.6 L173.2,123.1 M169.9,120.6 L168.9,123.1 M180.2,120.6 L180.7,123.1 M177.1,120.6 L176.3,123.1 M187.4,120.5 L188.2,123.1 M184.3,120.5 L183.8,123.1 M194.6,120.5 L195.6,123.0 M191.6,120.5 L191.3,123.0 M201.8,120.5 L203.1,123.0 M198.8,120.5 L198.8,123.0 M209.0,120.5 L210.6,123.0 M206.0,120.5 L206.2,123.0 M216.3,120.5 L218.0,123.0 M213.2,120.5 L213.7,123.0 M223.5,120.5 L225.5,123.0 M220.4,120.5 L221.2,123.0 M230.7,120.5 L233.0,123.0 M227.7,120.5 L228.7,123.0 M237.9,120.4 L240.5,122.9 M234.9,120.4 L236.1,122.9 M131.5,123.2 L130.4,125.6 M128.4,123.2 L126.0,125.7 M139.0,123.2 L138.2,125.6 M135.8,123.2 L133.7,125.6 M146.4,123.2 L145.9,125.6 M143.3,123.2 L141.4,125.6 M153.9,123.1 L153.6,125.6 M150.8,123.1 L149.1,125.6 M161.4,123.1 L161.3,125.6 M158.3,123.1 L156.8,125.6 M168.9,123.1 L169.0,125.5 M165.7,123.1 L164.6,125.6 M176.3,123.1 L176.8,125.5 M173.2,123.1 L172.3,125.5 M183.8,123.1 L184.5,125.5 M180.7,123.1 L180.0,125.5 M191.3,123.0 L192.2,125.5 M188.2,123.1 L187.7,125.5 M198.8,123.0 L199.9,125.5 M195.6,123.0 L195.4,125.5 M206.2,123.0 L207.6,125.4 M203.1,123.0 L203.2,125.5 M213.7,123.0 L215.4,125.4 M210.6,123.0 L210.9,125.4 M221.2,123.0 L223.1,125.4 M218.0,123.0 L218.6,125.4 M228.7,123.0 L230.8,125.4 M225.5,123.0 L226.3,125.4 M236.1,122.9 L238.5,125.4 M233.0,123.0 L234.1,125.4 M243.6,122.9 L246.3,125.3 M240.5,122.9 L241.8,125.4 M126.0,125.7 L124.8,128.1 M133.7,125.6 L132.8,128.0 M130.4,125.6 L128.2,128.0 M141.4,125.6 L140.8,128.0 M138.2,125.6 L136.1,128.0 M149.1,125.6 L148.7,128.0 M145.9,125.6 L144.1,128.0 M156.8,125.6 L156.7,128.0 M153.6,125.6 L152.1,128.0 M164.6,125.6 L164.6,127.9 M161.3,125.6 L160.0,128.0 M172.3,125.5 L172.6,127.9 M169.0,125.5 L168.0,127.9 M180.0,125.5 L180.6,127.9 M176.8,125.5 L176.0,127.9 M187.7,125.5 L188.5,127.9 M184.5,125.5 L183.9,127.9 M195.4,125.5 L196.5,127.9 M192.2,125.5 L191.9,127.9 M203.2,125.5 L204.5,127.8 M199.9,125.5 L199.8,127.8 M210.9,125.4 L212.4,127.8 M207.6,125.4 L207.8,127.8 M218.6,125.4 L220.4,127.8 M215.4,125.4 L215.8,127.8 M226.3,125.4 L228.3,127.8 M223.1,125.4 L223.7,127.8 M234.1,125.4 L236.3,127.7 M230.8,125.4 L231.7,127.7 M241.8,125.4 L244.3,127.7 M238.5,125.4 L239.6,127.7 M128.2,128.0 L127.2,130.4 M124.8,128.1 L122.5,130.4 M136.1,128.0 L135.4,130.4 M132.8,128.0 L130.7,130.4 M144.1,128.0 L143.6,130.3 M140.8,128.0 L138.9,130.4 M152.1,128.0 L151.8,130.3 M148.7,128.0 L147.1,130.3 M160.0,128.0 L160.0,130.3 M156.7,128.0 L155.3,130.3 M168.0,127.9 L168.2,130.3 M164.6,127.9 L163.5,130.3 M176.0,127.9 L176.4,130.2 M172.6,127.9 L171.7,130.3 M183.9,127.9 L184.6,130.2 M180.6,127.9 L179.9,130.2 M191.9,127.9 L192.8,130.2 M188.5,127.9 L188.1,130.2 M199.8,127.8 L201.0,130.2 M196.5,127.9 L196.3,130.2 M207.8,127.8 L209.2,130.1 M204.5,127.8 L204.5,130.2 M215.8,127.8 L217.4,130.1 M212.4,127.8 L212.7,130.1 M223.7,127.8 L225.6,130.1 M220.4,127.8 L220.9,130.1 M231.7,127.7 L233.8,130.1 M228.3,127.8 L229.0,130.1 M239.6,127.7 L242.0,130.0 M236.3,127.7 L237.2,130.0 M247.6,127.7 L250.2,130.0 M244.3,127.7 L245.4,130.0 M122.5,130.4 L121.5,132.7 M130.7,130.4 L129.9,132.7 M127.2,130.4 L125.0,132.7 M138.9,130.4 L138.3,132.7 M135.4,130.4 L133.4,132.7 M147.1,130.3 L146.8,132.6 M143.6,130.3 L141.9,132.6 M155.3,130.3 L155.2,132.6 M151.8,130.3 L150.3,132.6 M163.5,130.3 L163.6,132.6 M160.0,130.3 L158.7,132.6 M171.7,130.3 L172.0,132.5 M168.2,130.3 L167.2,132.6 M179.9,130.2 L180.5,132.5 M176.4,130.2 L175.6,132.5 M188.1,130.2 L188.9,132.5 M184.6,130.2 L184.0,132.5 M196.3,130.2 L197.3,132.5 M192.8,130.2 L192.4,132.5 M204.5,130.2 L205.8,132.4 M201.0,130.2 L200.9,132.4 M212.7,130.1 L214.2,132.4 M209.2,130.1 L209.3,132.4 M220.9,130.1 L222.6,132.4 M217.4,130.1 L217.7,132.4 M229.0,130.1 L231.0,132.3 M225.6,130.1 L226.2,132.4 M237.2,130.0 L239.5,132.3 M233.8,130.1 L234.6,132.3 M245.4,130.0 L247.9,132.3 M242.0,130.0 L243.0,132.3 M125.0,132.7 L124.2,135.0 M121.5,132.7 L119.1,135.0 M133.4,132.7 L132.8,134.9 M129.9,132.7 L127.8,135.0 M141.9,132.6 L141.5,134.9 M138.3,132.7 L136.4,134.9 M150.3,132.6 L150.1,134.9 M146.8,132.6 L145.1,134.9 M158.7,132.6 L158.8,134.8 M155.2,132.6 L153.8,134.9 M167.2,132.6 L167.4,134.8 M163.6,132.6 L162.4,134.8 M175.6,132.5 L176.1,134.8 M172.0,132.5 L171.1,134.8 M184.0,132.5 L184.8,134.8 M180.5,132.5 L179.7,134.8 M192.4,132.5 L193.4,134.7 M188.9,132.5 L188.4,134.7 M200.9,132.4 L202.1,134.7 M197.3,132.5 L197.0,134.7 M209.3,132.4 L210.7,134.7 M205.8,132.4 L205.7,134.7 M217.7,132.4 L219.4,134.6 M214.2,132.4 L214.4,134.6 M226.2,132.4 L228.0,134.6 M222.6,132.4 L223.0,134.6 M234.6,132.3 L236.7,134.6 M231.0,132.3 L231.7,134.6 M243.0,132.3 L245.3,134.5 M239.5,132.3 L240.3,134.5 M251.4,132.3 L254.0,134.5 M247.9,132.3 L249.0,134.5" fill="none" stroke="#707070" stroke-width="0.5"/>
<path d="M136.0,108.5 L138.5,108.5 M142.0,108.5 L144.5,108.5 M148.0,108.5 L150.5,108.5 M154.0,108.5 L156.5,108.5 M160.0,108.5 L162.5,108.5 M166.0,108.5 L168.5,108.5 M172.0,108.5 L174.5,108.5 M178.0,108.5 L180.5,108.5 M184.0,108.5 L186.5,108.5 M190.0,108.5 L192.5,108.5 M196.0,108.5 L198.5,108.5 M202.0,108.5 L204.5,108.5 M208.0,108.5 L210.5,108.5 M214.0,108.5 L216.5,108.5 M220.0,108.5 L222.5,108.5 M226.0,108.5 L228.5,108.5 M136.3,112.2 L139.0,112.2 M142.7,112.2 L145.3,112.2 M149.0,112.2 L151.7,112.2 M155.4,112.2 L158.1,112.2 M161.8,112.2 L164.5,112.2 M168.2,112.2 L170.8,112.2 M174.5,112.2 L177.2,112.2 M180.9,112.2 L183.6,112.2 M187.3,112.2 L190.0,112.2 M193.7,112.2 L196.3,112.2 M200.0,112.2 L202.7,112.2 M206.4,112.2 L209.1,112.2 M212.8,112.2 L215.5,112.2 M219.2,112.2 L221.8,112.2 M225.5,112.2 L228.2,112.2 M231.9,112.2 L234.6,112.2 M130.8,115.2 L133.6,115.2 M137.5,115.2 L140.3,115.2 M144.1,115.2 L146.9,115.2 M150.8,115.2 L153.6,115.2 M157.5,115.2 L160.3,115.2 M164.2,115.2 L167.0,115.2 M170.8,115.2 L173.6,115.2 M177.5,115.2 L180.3,115.2 M184.2,115.2 L187.0,115.2 M190.9,115.2 L193.7,115.2 M197.5,115.2 L200.3,115.2 M204.2,115.2 L207.0,115.2 M210.9,115.2 L213.7,115.1 M217.6,115.1 L220.4,115.1 M224.2,115.1 L227.1,115.1 M230.9,115.1 L233.7,115.1 M132.1,118.0 L135.0,118.0 M139.1,118.0 L142.0,118.0 M146.0,118.0 L148.9,118.0 M153.0,118.0 L155.9,118.0 M159.9,118.0 L162.8,118.0 M166.9,118.0 L169.8,118.0 M173.8,118.0 L176.8,117.9 M180.8,117.9 L183.7,117.9 M187.7,117.9 L190.7,117.9 M194.7,117.9 L197.6,117.9 M201.7,117.9 L204.6,117.9 M208.6,117.9 L211.5,117.9 M215.6,117.9 L218.5,117.9 M222.5,117.9 L225.4,117.9 M229.5,117.9 L232.4,117.9 M236.4,117.8 L239.3,117.8 M126.6,120.7 L129.6,120.7 M133.8,120.6 L136.8,120.6 M141.0,120.6 L144.1,120.6 M148.2,120.6 L151.3,120.6 M155.5,120.6 L158.5,120.6 M162.7,120.6 L165.7,120.6 M169.9,120.6 L172.9,120.6 M177.1,120.6 L180.2,120.6 M184.3,120.5 L187.4,120.5 M191.6,120.5 L194.6,120.5 M198.8,120.5 L201.8,120.5 M206.0,120.5 L209.0,120.5 M213.2,120.5 L216.3,120.5 M220.4,120.5 L223.5,120.5 M227.7,120.5 L230.7,120.5 M234.9,120.4 L237.9,120.4 M128.4,123.2 L131.5,123.2 M135.8,123.2 L139.0,123.2 M143.3,123.2 L146.4,123.2 M150.8,123.1 L153.9,123.1 M158.3,123.1 L161.4,123.1 M165.7,123.1 L168.9,123.1 M173.2,123.1 L176.3,123.1 M180.7,123.1 L183.8,123.1 M188.2,123.1 L191.3,123.0 M195.6,123.0 L198.8,123.0 M203.1,123.0 L206.2,123.0 M210.6,123.0 L213.7,123.0 M218.0,123.0 L221.2,123.0 M225.5,123.0 L228.7,123.0 M233.0,123.0 L236.1,122.9 M240.5,122.9 L243.6,122.9 M122.7,125.7 L126.0,125.7 M130.4,125.6 L133.7,125.6 M138.2,125.6 L141.4,125.6 M145.9,125.6 L149.1,125.6 M153.6,125.6 L156.8,125.6 M161.3,125.6 L164.6,125.6 M169.0,125.5 L172.3,125.5 M176.8,125.5 L180.0,125.5 M184.5,125.5 L187.7,125.5 M192.2,125.5 L195.4,125.5 M199.9,125.5 L203.2,125.5 M207.6,125.4 L210.9,125.4 M215.4,125.4 L218.6,125.4 M223.1,125.4 L226.3,125.4 M230.8,125.4 L234.1,125.4 M238.5,125.4 L241.8,125.4 M124.8,128.1 L128.2,128.0 M132.8,128.0 L136.1,128.0 M140.8,128.0 L144.1,128.0 M148.7,128.0 L152.1,128.0 M156.7,128.0 L160.0,128.0 M164.6,127.9 L168.0,127.9 M172.6,127.9 L176.0,127.9 M180.6,127.9 L183.9,127.9 M188.5,127.9 L191.9,127.9 M196.5,127.9 L199.8,127.8 M204.5,127.8 L207.8,127.8 M212.4,127.8 L215.8,127.8 M220.4,127.8 L223.7,127.8 M228.3,127.8 L231.7,127.7 M236.3,127.7 L239.6,127.7 M244.3,127.7 L247.6,127.7 M119.0,130.4 L122.5,130.4 M127.2,130.4 L130.7,130.4 M135.4,130.4 L138.9,130.4 M143.6,130.3 L147.1,130.3 M151.8,130.3 L155.3,130.3 M160.0,130.3 L163.5,130.3 M168.2,130.3 L171.7,130.3 M176.4,130.2 L179.9,130.2 M184.6,130.2 L188.1,130.2 M192.8,130.2 L196.3,130.2 M201.0,130.2 L204.5,130.2 M209.2,130.1 L212.7,130.1 M217.4,130.1 L220.9,130.1 M225.6,130.1 L229.0,130.1 M233.8,130.1 L237.2,130.0 M242.0,130.0 L245.4,130.0 M121.5,132.7 L125.0,132.7 M129.9,132.7 L133.4,132.7 M138.3,132.7 L141.9,132.6 M146.8,132.6 L150.3,132.6 M155.2,132.6 L158.7,132.6 M163.6,132.6 L167.2,132.6 M172.0,132.5 L175.6,132.5 M180.5,132.5 L184.0,132.5 M188.9,132.5 L192.4,132.5 M197.3,132.5 L200.9,132.4 M205.8,132.4 L209.3,132.4 M214.2,132.4 L217.7,132.4 M222.6,132.4 L226.2,132.4 M231.0,132.3 L234.6,132.3 M239.5,132.3 L243.0,132.3 M247.9,132.3 L251.4,132.3 M115.5,135.0 L119.1,135.0 M124.2,135.0 L127.8,135.0 M132.8,134.9 L136.4,134.9 M141.5,134.9 L145.1,134.9 M150.1,134.9 L153.8,134.9 M158.8,134.8 L162.4,134.8 M167.4,134.8 L171.1,134.8 M176.1,134.8 L179.7,134.8 M184.8,134.8 L188.4,134.7 M193.4,134.7 L197.0,134.7 M202.1,134.7 L205.7,134.7 M210.7,134.7 L214.4,134.6 M219.4,134.6 L223.0,134.6 M228.0,134.6 L231.7,134.6 M236.7,134.6 L240.3,134.5 M245.3,134.5 L249.0,134.5" fill="none" stroke="#1c1c1c" stroke-width="1.3"/>
<circle cx="153.6" cy="69.5" r="3.8" fill="url(#gp)"/>
<circle cx="191.0" cy="69.5" r="3.8" fill="url(#gp)"/>
<circle cx="227.9" cy="69.5" r="3.9" fill="url(#gp)"/>
<circle cx="144.5" cy="76.9" r="3.2" fill="url(#gg)"/>
<circle cx="162.6" cy="81.2" r="3.0" fill="url(#gp)"/>
<circle cx="173.6" cy="76.9" r="3.2" fill="url(#gp)"/>
<circle cx="204.5" cy="76.2" r="3.3" fill="url(#gp)"/>
<circle cx="213.8" cy="81.2" r="3.0" fill="url(#gp)"/>
<circle cx="188.0" cy="81.2" r="3.0" fill="url(#gg)"/>
<circle cx="161.9" cy="101.3" r="3.0" fill="url(#gp)"/>
<circle cx="187.7" cy="101.3" r="3.0" fill="url(#gp)"/>
<circle cx="213.1" cy="101.8" r="3.0" fill="url(#gp)"/>
<circle cx="143.3" cy="109.4" r="3.4" fill="url(#gg)"/>
<circle cx="173.6" cy="109.6" r="3.4" fill="url(#gg)"/>
<circle cx="203.6" cy="109.6" r="3.3" fill="url(#gp)"/>
<circle cx="153.9" cy="120.0" r="4.0" fill="url(#gg)"/>
<circle cx="189.7" cy="119.7" r="3.8" fill="url(#gp)"/>
<circle cx="226.1" cy="119.5" r="3.8" fill="url(#gg)"/>
<path d="M240.70,76.00 L254.24,78.37 L251.91,73.78 L273.60,62.75 L275.93,67.34 L282.00,55.00 L268.46,52.63 L270.79,57.22 L249.10,68.25 L246.77,63.66 Z" fill="#8e30e8" stroke="none" stroke-width="1" />
<path d="M244.00,119.00 L257.57,121.19 L255.18,116.63 L275.70,105.86 L278.10,110.42 L284.00,98.00 L270.43,95.81 L272.82,100.37 L252.30,111.14 L249.90,106.58 Z" fill="#22a822" stroke="none" stroke-width="1" />
<circle cx="291.0" cy="54.5" r="6.2" fill="url(#gp)"/>
<circle cx="292.9" cy="93.4" r="6.2" fill="url(#gg)"/>
<text x="280.20" y="41.20"  font-size="11" text-anchor="start" fill="#111" stroke="#111" stroke-width="0.1" font-weight="bold" >K<tspan font-size="7" dy="-4">+</tspan></text>
<text x="291.80" y="82.00"  font-size="11" text-anchor="start" fill="#111" stroke="#111" stroke-width="0.1" font-weight="bold" >Li<tspan font-size="7" dy="-4">+</tspan></text>
<text x="152.60" y="18.30"  font-size="11.6" text-anchor="start" fill="#111" stroke="#111" stroke-width="0.1" font-weight="bold" >Li<tspan font-size="7.4" dy="-4">+</tspan><tspan dy="4">-based SEI</tspan></text>
<line x1="380.00" y1="131.31" x2="383.00" y2="131.31" stroke="#262626" stroke-width="1.2" />
<text x="378.50" y="134.50" transform="matrix(1,0,0,1.12,0,-16.141)" font-size="9" text-anchor="end" fill="#1a1a1a" stroke="#1a1a1a" stroke-width="0.22" font-weight="normal" >-1.5</text>
<line x1="381.00" y1="121.29" x2="383.00" y2="121.29" stroke="#262626" stroke-width="1.2" />
<line x1="380.00" y1="111.27" x2="383.00" y2="111.27" stroke="#262626" stroke-width="1.2" />
<text x="378.50" y="114.47" transform="matrix(1,0,0,1.12,0,-13.736)" font-size="9" text-anchor="end" fill="#1a1a1a" stroke="#1a1a1a" stroke-width="0.22" font-weight="normal" >-1.0</text>
<line x1="381.00" y1="101.25" x2="383.00" y2="101.25" stroke="#262626" stroke-width="1.2" />
<line x1="380.00" y1="91.23" x2="383.00" y2="91.23" stroke="#262626" stroke-width="1.2" />
<text x="378.50" y="94.44" transform="matrix(1,0,0,1.12,0,-11.332)" font-size="9" text-anchor="end" fill="#1a1a1a" stroke="#1a1a1a" stroke-width="0.22" font-weight="normal" >-0.5</text>
<line x1="381.00" y1="81.22" x2="383.00" y2="81.22" stroke="#262626" stroke-width="1.2" />
<line x1="380.00" y1="71.20" x2="383.00" y2="71.20" stroke="#262626" stroke-width="1.2" />
<text x="378.50" y="74.40" transform="matrix(1,0,0,1.12,0,-8.928)" font-size="9" text-anchor="end" fill="#1a1a1a" stroke="#1a1a1a" stroke-width="0.22" font-weight="normal" >0.0</text>
<line x1="381.00" y1="61.18" x2="383.00" y2="61.18" stroke="#262626" stroke-width="1.2" />
<line x1="380.00" y1="51.17" x2="383.00" y2="51.17" stroke="#262626" stroke-width="1.2" />
<text x="378.50" y="54.37" transform="matrix(1,0,0,1.12,0,-6.524)" font-size="9" text-anchor="end" fill="#1a1a1a" stroke="#1a1a1a" stroke-width="0.22" font-weight="normal" >0.5</text>
<line x1="381.00" y1="41.15" x2="383.00" y2="41.15" stroke="#262626" stroke-width="1.2" />
<line x1="380.00" y1="31.13" x2="383.00" y2="31.13" stroke="#262626" stroke-width="1.2" />
<text x="378.50" y="34.33" transform="matrix(1,0,0,1.12,0,-4.120)" font-size="9" text-anchor="end" fill="#1a1a1a" stroke="#1a1a1a" stroke-width="0.22" font-weight="normal" >1.0</text>
<line x1="381.00" y1="21.11" x2="383.00" y2="21.11" stroke="#262626" stroke-width="1.2" />
<line x1="380.00" y1="11.09" x2="383.00" y2="11.09" stroke="#262626" stroke-width="1.2" />
<text x="378.50" y="14.29" transform="matrix(1,0,0,1.12,0,-1.715)" font-size="9" text-anchor="end" fill="#1a1a1a" stroke="#1a1a1a" stroke-width="0.22" font-weight="normal" >1.5</text>
<line x1="382.93" y1="141.00" x2="382.93" y2="143.00" stroke="#262626" stroke-width="1.2" />
<line x1="398.70" y1="141.00" x2="398.70" y2="144.00" stroke="#262626" stroke-width="1.2" />
<text x="398.70" y="152.80" transform="matrix(1,0,0,1.12,0,-18.336)" font-size="9" text-anchor="middle" fill="#1a1a1a" stroke="#1a1a1a" stroke-width="0.22" font-weight="normal" >0.4</text>
<line x1="414.47" y1="141.00" x2="414.47" y2="143.00" stroke="#262626" stroke-width="1.2" />
<line x1="430.24" y1="141.00" x2="430.24" y2="144.00" stroke="#262626" stroke-width="1.2" />
<text x="430.24" y="152.80" transform="matrix(1,0,0,1.12,0,-18.336)" font-size="9" text-anchor="middle" fill="#1a1a1a" stroke="#1a1a1a" stroke-width="0.22" font-weight="normal" >0.3</text>
<line x1="446.01" y1="141.00" x2="446.01" y2="143.00" stroke="#262626" stroke-width="1.2" />
<line x1="461.78" y1="141.00" x2="461.78" y2="144.00" stroke="#262626" stroke-width="1.2" />
<text x="461.78" y="152.80" transform="matrix(1,0,0,1.12,0,-18.336)" font-size="9" text-anchor="middle" fill="#1a1a1a" stroke="#1a1a1a" stroke-width="0.22" font-weight="normal" >0.2</text>
<line x1="477.55" y1="141.00" x2="477.55" y2="143.00" stroke="#262626" stroke-width="1.2" />
<line x1="493.32" y1="141.00" x2="493.32" y2="144.00" stroke="#262626" stroke-width="1.2" />
<text x="493.32" y="152.80" transform="matrix(1,0,0,1.12,0,-18.336)" font-size="9" text-anchor="middle" fill="#1a1a1a" stroke="#1a1a1a" stroke-width="0.22" font-weight="normal" >0.1</text>
<line x1="509.09" y1="141.00" x2="509.09" y2="143.00" stroke="#262626" stroke-width="1.2" />
<line x1="524.86" y1="141.00" x2="524.86" y2="144.00" stroke="#262626" stroke-width="1.2" />
<text x="524.86" y="152.80" transform="matrix(1,0,0,1.12,0,-18.336)" font-size="9" text-anchor="middle" fill="#1a1a1a" stroke="#1a1a1a" stroke-width="0.22" font-weight="normal" >0.0</text>
<line x1="540.63" y1="141.00" x2="540.63" y2="143.00" stroke="#262626" stroke-width="1.2" />
<line x1="556.40" y1="141.00" x2="556.40" y2="144.00" stroke="#262626" stroke-width="1.2" />
<text x="556.40" y="152.80" transform="matrix(1,0,0,1.12,0,-18.336)" font-size="9" text-anchor="middle" fill="#1a1a1a" stroke="#1a1a1a" stroke-width="0.22" font-weight="normal" >-0.1</text>
<text x="470.50" y="168.90"  font-size="10.65" text-anchor="middle" fill="#1a1a1a" stroke="#1a1a1a" stroke-width="0.1" font-weight="normal" >Potential (V <tspan font-style="italic">vs.</tspan> 0.1 M Li<tspan font-size="6.5" dy="-4">+</tspan><tspan dy="4">/Li)</tspan></text>
<text transform="translate(355.3,68.8) rotate(-90)" stroke="#1a1a1a" stroke-width="0.1" font-size="10.8" text-anchor="middle" fill="#1a1a1a">Current (μA)</text>
<rect x="383.00" y="2.00" width="173.40" height="139.00" fill="none" stroke="#262626" stroke-width="1.5"/>
<g fill="none" stroke-linejoin="round">
<path d="M439.00,73.00 L441.23,72.96 L443.68,72.92 L446.12,72.80 L448.56,72.58 L450.99,72.36 L453.43,72.14 L455.85,71.84 L458.26,71.39 L460.66,70.94 L463.06,70.48 L465.41,69.78 L467.75,69.08 L470.09,68.38 L472.50,67.96 L474.91,67.54 L477.32,67.12 L479.71,66.61 L482.10,66.06 L484.48,65.51 L486.86,64.94 L489.16,64.11 L491.46,63.28 L493.76,62.45 L496.03,61.56 L498.28,60.59 L500.53,59.63 L502.78,58.67 L504.75,57.26 L506.63,55.69 L508.50,54.12 L510.37,52.54 L512.25,50.97 L514.20,49.51 L516.27,48.21 L518.35,46.92 L520.49,45.77 L522.85,45.15 L525.22,44.53 L527.59,43.91 L530.01,43.70 L532.45,43.70 L534.90,43.70 L537.32,43.85 L539.67,44.54 L542.01,45.23 L543.50,47.00 L542.93,49.84 L542.36,52.68 L541.80,55.52 L541.23,58.37 L540.66,61.21 L540.06,64.04 L539.46,66.88 L538.85,69.71 L538.24,72.54 L537.63,75.38 L536.88,78.17 L536.08,80.96 L535.28,83.74 L534.38,86.49 L532.94,89.00 L531.50,91.52 L530.07,94.03 L528.47,96.43 L526.41,98.46 L524.34,100.50 L522.28,102.54 L520.13,104.44 L517.54,105.75 L514.96,107.06 L512.37,108.36 L509.60,109.21 L506.82,110.04 L504.12,111.06 L501.50,112.30 L500.50,110.81 L499.50,109.32 L498.50,107.84 L497.31,106.56 L495.71,105.75 L494.10,104.95 L492.65,103.95 L491.38,102.68 L490.11,101.41 L488.95,100.06 L487.91,98.59 L486.88,97.12 L485.85,95.66 L484.49,94.52 L483.02,93.49 L481.55,92.46 L480.08,91.43 L478.61,90.40 L477.04,89.58 L475.36,88.95 L473.68,88.32 L472.00,87.69 L470.32,87.06 L468.64,86.44 L466.96,85.81 L465.27,85.20 L463.55,84.68 L461.84,84.17 L460.12,83.65 L458.40,83.14 L456.68,82.62 L454.97,82.10 L453.25,81.59 L451.53,81.07 L449.80,80.59 L448.05,80.22 L446.30,79.84 L444.54,79.46 L442.79,79.09 L441.04,78.71 L439.28,78.39 L439.00,78.39 Z" fill="none" stroke="#6a2cd8" stroke-width="1.5" />
<path d="M439.00,71.46 L441.31,71.39 L443.62,71.31 L445.93,71.24 L448.24,71.16 L450.55,71.09 L452.86,71.01 L455.14,70.78 L457.42,70.53 L459.71,70.29 L461.99,70.04 L464.27,69.79 L466.55,69.54 L468.83,69.29 L471.11,69.04 L473.39,68.80 L475.64,68.44 L477.85,68.00 L480.07,67.57 L482.28,67.13 L484.50,66.70 L486.71,66.27 L488.91,65.81 L491.07,65.25 L493.22,64.70 L495.37,64.15 L497.52,63.60 L499.68,63.04 L501.83,62.49 L503.65,61.61 L505.29,60.54 L506.92,59.47 L508.56,58.40 L509.76,57.15 L510.53,55.73 L511.30,54.30 L512.07,52.88 L512.83,51.45 L513.60,50.03 L514.37,48.60 L515.28,47.21 L516.20,45.82 L517.12,44.44 L518.21,43.12 L519.66,41.94 L521.12,40.77 L522.00,39.37 L522.86,37.97 L523.71,36.56 L524.61,35.18 L526.32,34.16 L528.07,33.32 L530.13,34.01 L532.19,34.70 L533.66,35.87 L535.12,37.03 L536.72,38.06 L538.98,38.41 L541.04,38.01 L543.00,37.21 L542.76,39.11 L542.47,41.02 L542.18,42.92 L541.88,44.82 L541.59,46.72 L541.30,48.63 L540.97,50.53 L540.62,52.43 L540.26,54.33 L539.91,56.24 L539.56,58.14 L539.21,60.04 L538.85,61.95 L538.50,63.85 L538.13,65.75 L537.66,67.65 L537.20,69.56 L536.74,71.46 L536.28,73.36 L535.82,75.27 L535.35,77.17 L534.89,79.07 L534.35,80.97 L533.50,82.88 L532.65,84.78 L531.80,86.68 L530.95,88.58 L530.10,90.49 L529.25,92.39 L527.92,94.29 L526.46,96.20 L525.01,98.10 L523.56,100.00 L522.10,101.90 L520.65,103.81 L517.75,105.71 L514.49,107.61 L511.23,109.51 L507.32,111.42 L503.00,113.32 L501.73,112.86 L500.45,112.41 L499.33,111.74 L498.31,110.94 L497.28,110.13 L496.26,109.35 L494.96,109.75 L493.66,109.96 L492.32,109.65 L490.99,109.34 L490.38,108.27 L489.77,107.19 L489.16,106.12 L488.55,105.04 L487.98,103.95 L487.65,102.79 L487.32,101.63 L486.98,100.46 L486.65,99.30 L486.31,98.14 L485.98,96.98 L485.37,95.95 L484.39,95.10 L483.38,94.30 L482.12,93.82 L480.86,93.33 L479.60,92.84 L478.34,92.36 L477.08,91.87 L475.86,91.32 L474.68,90.70 L473.50,90.09 L472.32,89.47 L471.14,88.85 L469.96,88.24 L468.77,87.62 L467.59,87.00 L466.41,86.39 L465.23,85.77 L464.05,85.15 L462.78,84.68 L461.51,84.23 L460.23,83.78 L458.95,83.33 L457.68,82.88 L456.40,82.43 L455.12,81.98 L453.85,81.53 L452.57,81.08 L451.28,80.68 L449.91,80.51 L448.55,80.34 L447.18,80.17 L445.82,80.00 L444.46,79.83 L443.09,79.66 L441.73,79.50 L440.36,79.33 L439.00,79.16 Z" fill="none" stroke="#8c44f4" stroke-width="1.45" />
<path d="M439.00,71.47 L441.10,71.39 L443.21,71.32 L445.31,71.24 L447.41,71.16 L449.52,71.08 L451.62,71.01 L453.70,70.77 L455.78,70.51 L457.85,70.26 L459.93,70.00 L462.01,69.75 L464.09,69.49 L466.16,69.23 L468.24,68.98 L470.32,68.72 L472.36,68.35 L474.38,67.91 L476.39,67.46 L478.41,67.01 L480.43,66.56 L482.45,66.12 L484.45,65.64 L486.41,65.07 L488.37,64.50 L490.33,63.94 L492.29,63.37 L494.25,62.80 L496.21,62.23 L497.87,61.32 L499.36,60.22 L500.85,59.12 L502.34,58.01 L503.43,56.73 L504.13,55.26 L504.83,53.79 L505.53,52.32 L506.23,50.85 L506.93,49.38 L507.63,47.91 L508.46,46.48 L509.30,45.05 L510.14,43.63 L511.13,42.26 L512.45,41.05 L513.78,39.84 L514.58,38.41 L515.36,36.96 L516.14,35.51 L516.95,34.09 L518.51,33.04 L520.10,32.17 L521.98,32.88 L523.85,33.59 L525.19,34.79 L526.53,36.00 L527.99,37.06 L530.04,37.41 L531.91,37.01 L533.70,36.18 L533.52,38.16 L533.27,40.14 L533.02,42.13 L532.77,44.11 L532.52,46.09 L532.27,48.07 L531.99,50.06 L531.68,52.04 L531.37,54.02 L531.06,56.00 L530.75,57.99 L530.45,59.97 L530.14,61.95 L529.83,63.93 L529.50,65.92 L529.09,67.90 L528.67,69.88 L528.26,71.86 L527.84,73.85 L527.43,75.83 L527.01,77.81 L526.60,79.79 L526.12,81.78 L525.38,83.76 L524.64,85.74 L523.91,87.72 L523.17,89.71 L522.43,91.69 L521.70,93.67 L520.59,95.65 L519.40,97.64 L518.20,99.62 L517.01,101.60 L515.81,103.58 L514.62,105.57 L512.29,107.55 L509.67,109.53 L507.06,111.51 L503.94,113.50 L500.50,115.48 L499.28,115.00 L498.05,114.52 L496.97,113.82 L495.99,112.97 L495.01,112.13 L494.02,111.30 L492.78,111.73 L491.52,111.94 L490.24,111.62 L488.96,111.30 L488.37,110.17 L487.79,109.04 L487.20,107.91 L486.62,106.78 L486.07,105.63 L485.75,104.41 L485.43,103.19 L485.11,101.97 L484.79,100.74 L484.47,99.52 L484.14,98.30 L483.56,97.22 L482.62,96.33 L481.65,95.49 L480.44,94.98 L479.23,94.47 L478.02,93.95 L476.81,93.44 L475.60,92.93 L474.42,92.35 L473.29,91.70 L472.15,91.06 L471.02,90.41 L469.88,89.76 L468.75,89.11 L467.61,88.46 L466.48,87.81 L465.34,87.16 L464.21,86.52 L463.07,85.87 L461.85,85.37 L460.63,84.90 L459.40,84.43 L458.17,83.95 L456.95,83.48 L455.72,83.00 L454.49,82.53 L453.27,82.06 L452.04,81.58 L450.80,81.17 L449.49,80.99 L448.17,80.81 L446.86,80.63 L445.55,80.46 L444.24,80.28 L442.93,80.10 L441.62,79.92 L440.31,79.74 L439.00,79.56 Z" fill="none" stroke="#7b3af0" stroke-width="1.45" />
<path d="M439.00,71.48 L440.95,71.40 L442.91,71.32 L444.86,71.24 L446.82,71.16 L448.77,71.08 L450.73,71.00 L452.66,70.76 L454.59,70.49 L456.52,70.23 L458.45,69.97 L460.38,69.70 L462.31,69.44 L464.24,69.18 L466.17,68.91 L468.10,68.65 L470.00,68.27 L471.87,67.81 L473.75,67.35 L475.62,66.89 L477.50,66.43 L479.37,65.97 L481.24,65.48 L483.06,64.89 L484.88,64.31 L486.70,63.72 L488.52,63.14 L490.34,62.55 L492.16,61.96 L493.71,61.03 L495.09,59.89 L496.47,58.76 L497.86,57.63 L498.87,56.30 L499.52,54.79 L500.17,53.28 L500.82,51.77 L501.47,50.25 L502.12,48.74 L502.77,47.23 L503.54,45.76 L504.32,44.29 L505.10,42.81 L506.02,41.41 L507.25,40.17 L508.49,38.92 L509.23,37.44 L509.96,35.95 L510.68,34.46 L511.44,32.99 L512.89,31.92 L514.37,31.03 L516.11,31.76 L517.85,32.49 L519.09,33.72 L520.33,34.96 L521.69,36.05 L523.59,36.42 L525.34,36.00 L527.00,35.15 L526.85,37.20 L526.62,39.25 L526.40,41.30 L526.17,43.35 L525.95,45.39 L525.72,47.44 L525.46,49.49 L525.17,51.54 L524.88,53.59 L524.59,55.64 L524.30,57.69 L524.02,59.73 L523.73,61.78 L523.44,63.83 L523.13,65.88 L522.73,67.93 L522.34,69.98 L521.94,72.03 L521.54,74.08 L521.15,76.12 L520.75,78.17 L520.36,80.22 L519.90,82.27 L519.22,84.32 L518.54,86.37 L517.86,88.42 L517.17,90.47 L516.49,92.51 L515.81,94.56 L514.83,96.61 L513.78,98.66 L512.73,100.71 L511.67,102.76 L510.62,104.81 L509.57,106.86 L507.57,108.91 L505.33,110.95 L503.09,113.00 L500.43,115.05 L497.50,117.10 L496.34,116.60 L495.17,116.11 L494.15,115.38 L493.21,114.50 L492.28,113.63 L491.34,112.77 L490.15,113.21 L488.96,113.43 L487.74,113.10 L486.52,112.77 L485.97,111.60 L485.41,110.42 L484.85,109.25 L484.30,108.08 L483.77,106.89 L483.47,105.63 L483.16,104.36 L482.86,103.09 L482.55,101.82 L482.25,100.56 L481.94,99.29 L481.38,98.17 L480.49,97.25 L479.57,96.37 L478.42,95.85 L477.26,95.32 L476.11,94.79 L474.96,94.26 L473.81,93.73 L472.70,93.13 L471.62,92.45 L470.54,91.78 L469.46,91.11 L468.38,90.44 L467.30,89.77 L466.22,89.09 L465.14,88.42 L464.06,87.75 L462.98,87.08 L461.90,86.40 L460.74,85.89 L459.57,85.40 L458.41,84.91 L457.24,84.42 L456.07,83.93 L454.90,83.44 L453.74,82.95 L452.57,82.45 L451.40,81.96 L450.22,81.53 L448.97,81.35 L447.73,81.16 L446.48,80.98 L445.23,80.79 L443.99,80.61 L442.74,80.42 L441.49,80.24 L440.25,80.05 L439.00,79.87 Z" fill="none" stroke="#a656ea" stroke-width="1.45" />
<path d="M439.00,71.49 L440.89,71.41 L442.78,71.32 L444.66,71.24 L446.55,71.16 L448.44,71.08 L450.33,70.99 L452.19,70.75 L454.06,70.47 L455.92,70.20 L457.79,69.93 L459.65,69.66 L461.52,69.39 L463.38,69.12 L465.25,68.85 L467.11,68.58 L468.94,68.19 L470.75,67.71 L472.56,67.24 L474.37,66.77 L476.19,66.29 L478.00,65.82 L479.80,65.32 L481.55,64.71 L483.31,64.11 L485.07,63.51 L486.83,62.90 L488.59,62.30 L490.35,61.70 L491.84,60.74 L493.18,59.57 L494.51,58.41 L495.85,57.24 L496.83,55.88 L497.46,54.32 L498.09,52.77 L498.72,51.21 L499.34,49.66 L499.97,48.10 L500.60,46.54 L501.34,45.03 L502.10,43.52 L502.85,42.00 L503.74,40.56 L504.93,39.28 L506.12,38.00 L506.84,36.48 L507.54,34.95 L508.24,33.41 L508.97,31.90 L510.37,30.79 L511.80,29.88 L513.48,30.63 L515.16,31.38 L516.36,32.65 L517.56,33.93 L518.87,35.05 L520.71,35.43 L522.40,34.99 L524.00,34.12 L523.87,36.26 L523.64,38.40 L523.41,40.55 L523.18,42.69 L522.95,44.83 L522.72,46.97 L522.45,49.11 L522.14,51.26 L521.84,53.40 L521.54,55.54 L521.23,57.68 L520.93,59.82 L520.62,61.97 L520.32,64.11 L519.99,66.25 L519.56,68.39 L519.13,70.53 L518.70,72.68 L518.27,74.82 L517.84,76.96 L517.41,79.10 L516.98,81.24 L516.49,83.39 L515.78,85.53 L515.07,87.67 L514.36,89.81 L513.65,91.95 L512.93,94.10 L512.22,96.24 L511.27,98.38 L510.25,100.52 L509.23,102.66 L508.21,104.81 L507.19,106.95 L506.17,109.09 L504.30,111.23 L502.22,113.37 L500.14,115.52 L497.69,117.66 L495.00,119.80 L493.89,119.27 L492.77,118.75 L491.79,117.98 L490.89,117.05 L490.00,116.12 L489.10,115.22 L487.97,115.69 L486.82,115.92 L485.66,115.56 L484.49,115.21 L483.96,113.97 L483.43,112.73 L482.89,111.49 L482.36,110.25 L481.86,108.99 L481.57,107.65 L481.28,106.31 L480.98,104.97 L480.69,103.62 L480.40,102.28 L480.11,100.94 L479.57,99.76 L478.72,98.78 L477.83,97.86 L476.73,97.30 L475.63,96.73 L474.53,96.17 L473.42,95.61 L472.32,95.05 L471.26,94.42 L470.22,93.70 L469.19,92.99 L468.15,92.28 L467.12,91.57 L466.09,90.86 L465.05,90.15 L464.02,89.43 L462.99,88.72 L461.95,88.01 L460.92,87.30 L459.81,86.76 L458.69,86.24 L457.58,85.72 L456.46,85.20 L455.34,84.68 L454.22,84.16 L453.11,83.64 L451.99,83.12 L450.87,82.60 L449.74,82.14 L448.55,81.95 L447.35,81.75 L446.16,81.55 L444.97,81.36 L443.77,81.16 L442.58,80.97 L441.39,80.77 L440.19,80.58 L439.00,80.38 Z" fill="none" stroke="#efa82a" stroke-width="1.45" />
<path d="M422.00,71.50 L424.22,71.42 L426.44,71.33 L428.66,71.24 L430.88,71.16 L433.10,71.07 L435.33,70.98 L437.52,70.72 L439.72,70.43 L441.91,70.15 L444.10,69.86 L446.30,69.58 L448.49,69.29 L450.68,69.00 L452.88,68.72 L455.07,68.43 L457.23,68.02 L459.36,67.52 L461.49,67.02 L463.62,66.52 L465.75,66.02 L467.88,65.52 L469.99,64.99 L472.06,64.35 L474.13,63.72 L476.20,63.08 L478.27,62.44 L480.34,61.81 L482.41,61.17 L484.17,60.16 L485.74,58.93 L487.31,57.69 L488.88,56.46 L490.04,55.03 L490.78,53.38 L491.52,51.74 L492.26,50.10 L492.99,48.46 L493.73,46.82 L494.47,45.18 L495.35,43.58 L496.23,41.98 L497.12,40.38 L498.16,38.86 L499.56,37.51 L500.96,36.15 L501.81,34.55 L502.63,32.93 L503.45,31.31 L504.32,29.72 L505.96,28.55 L507.64,27.58 L509.62,28.38 L511.60,29.17 L513.02,30.51 L514.43,31.86 L515.97,33.04 L518.13,33.44 L520.11,32.98 L522.00,32.06 L521.89,34.31 L521.65,36.55 L521.42,38.80 L521.18,41.05 L520.95,43.30 L520.71,45.55 L520.42,47.79 L520.11,50.04 L519.79,52.29 L519.47,54.54 L519.15,56.78 L518.84,59.03 L518.52,61.28 L518.20,63.53 L517.86,65.77 L517.40,68.02 L516.94,70.27 L516.48,72.52 L516.03,74.76 L515.57,77.01 L515.11,79.26 L514.65,81.51 L514.14,83.75 L513.40,86.00 L512.66,88.25 L511.92,90.50 L511.18,92.74 L510.45,94.99 L509.71,97.24 L508.75,99.49 L507.74,101.73 L506.73,103.98 L505.72,106.23 L504.71,108.48 L503.70,110.72 L501.90,112.97 L499.90,115.22 L497.90,117.47 L495.56,119.71 L493.00,121.96 L491.59,121.41 L490.17,120.86 L488.93,120.06 L487.79,119.09 L486.66,118.12 L485.52,117.17 L484.08,117.66 L482.63,117.91 L481.16,117.54 L479.68,117.17 L479.00,115.87 L478.33,114.58 L477.65,113.28 L476.97,111.98 L476.34,110.67 L475.97,109.27 L475.60,107.87 L475.23,106.47 L474.86,105.07 L474.49,103.66 L474.12,102.26 L473.44,101.03 L472.36,100.00 L471.24,99.04 L469.84,98.45 L468.44,97.87 L467.04,97.28 L465.65,96.70 L464.25,96.11 L462.90,95.45 L461.58,94.70 L460.27,93.96 L458.96,93.22 L457.65,92.47 L456.34,91.73 L455.03,90.99 L453.72,90.24 L452.41,89.50 L451.10,88.76 L449.79,88.01 L448.38,87.45 L446.97,86.91 L445.55,86.36 L444.14,85.82 L442.72,85.28 L441.30,84.73 L439.89,84.19 L438.47,83.65 L437.05,83.10 L435.62,82.63 L434.10,82.42 L432.59,82.22 L431.08,82.01 L429.57,81.81 L428.05,81.61 L426.54,81.40 L425.03,81.20 L423.51,80.99 L422.00,80.79 Z" fill="none" stroke="#f4ba1e" stroke-width="1.45" />
<path d="M422.00,71.52 L424.17,71.43 L426.34,71.34 L428.50,71.25 L430.67,71.15 L432.84,71.06 L435.01,70.97 L437.15,70.69 L439.29,70.39 L441.43,70.09 L443.57,69.79 L445.71,69.49 L447.85,69.19 L450.00,68.89 L452.14,68.59 L454.28,68.28 L456.38,67.85 L458.46,67.33 L460.54,66.80 L462.62,66.27 L464.70,65.75 L466.78,65.22 L468.84,64.66 L470.86,63.99 L472.88,63.32 L474.90,62.65 L476.92,61.98 L478.94,61.31 L480.96,60.64 L482.67,59.57 L484.21,58.28 L485.74,56.98 L487.28,55.69 L488.41,54.18 L489.13,52.45 L489.85,50.72 L490.57,48.99 L491.29,47.26 L492.01,45.53 L492.73,43.81 L493.59,42.12 L494.45,40.44 L495.31,38.76 L496.33,37.16 L497.70,35.73 L499.07,34.31 L499.89,32.62 L500.70,30.92 L501.50,29.22 L502.34,27.54 L503.95,26.30 L505.59,25.29 L507.52,26.12 L509.45,26.96 L510.83,28.37 L512.21,29.79 L513.71,31.03 L515.82,31.45 L517.76,30.97 L519.60,30.00 L519.50,32.32 L519.26,34.64 L519.02,36.96 L518.78,39.28 L518.53,41.60 L518.29,43.92 L518.00,46.23 L517.66,48.55 L517.33,50.87 L517.00,53.19 L516.67,55.51 L516.33,57.83 L516.00,60.15 L515.67,62.47 L515.31,64.79 L514.82,67.11 L514.33,69.43 L513.85,71.75 L513.36,74.07 L512.87,76.39 L512.39,78.70 L511.90,81.02 L511.36,83.34 L510.59,85.66 L509.82,87.98 L509.05,90.30 L508.28,92.62 L507.51,94.94 L506.75,97.26 L505.79,99.58 L504.79,101.90 L503.78,104.22 L502.78,106.54 L501.77,108.85 L500.77,111.17 L499.03,113.49 L497.11,115.81 L495.18,118.13 L492.95,120.45 L490.50,122.77 L489.14,122.21 L487.77,121.65 L486.57,120.84 L485.48,119.85 L484.38,118.87 L483.28,117.91 L481.90,118.40 L480.50,118.65 L479.07,118.28 L477.65,117.90 L476.99,116.59 L476.34,115.27 L475.69,113.95 L475.04,112.63 L474.43,111.30 L474.07,109.88 L473.71,108.45 L473.36,107.03 L473.00,105.61 L472.64,104.18 L472.28,102.76 L471.63,101.50 L470.59,100.46 L469.50,99.48 L468.15,98.89 L466.81,98.30 L465.46,97.70 L464.11,97.11 L462.76,96.51 L461.46,95.83 L460.19,95.08 L458.93,94.32 L457.66,93.57 L456.40,92.81 L455.13,92.06 L453.87,91.30 L452.60,90.55 L451.34,89.79 L450.07,89.04 L448.81,88.28 L447.46,87.71 L446.09,87.16 L444.72,86.60 L443.36,86.05 L441.99,85.50 L440.62,84.95 L439.26,84.40 L437.89,83.84 L436.52,83.29 L435.14,82.81 L433.68,82.60 L432.22,82.39 L430.76,82.19 L429.30,81.98 L427.84,81.77 L426.38,81.56 L424.92,81.36 L423.46,81.15 L422.00,80.94 Z" fill="none" stroke="#efb200" stroke-width="1.45" />
<path d="M422.00,71.54 L424.07,71.45 L426.13,71.35 L428.20,71.25 L430.26,71.15 L432.33,71.05 L434.39,70.95 L436.44,70.66 L438.48,70.33 L440.52,70.01 L442.56,69.69 L444.60,69.36 L446.64,69.04 L448.68,68.71 L450.72,68.39 L452.76,68.07 L454.76,67.60 L456.74,67.03 L458.72,66.47 L460.70,65.90 L462.68,65.34 L464.67,64.77 L466.64,64.17 L468.56,63.45 L470.49,62.73 L472.41,62.01 L474.33,61.29 L476.26,60.57 L478.18,59.85 L479.81,58.70 L481.28,57.31 L482.74,55.92 L484.20,54.52 L485.28,52.90 L485.96,51.04 L486.65,49.18 L487.34,47.32 L488.02,45.47 L488.71,43.61 L489.40,41.75 L490.21,39.94 L491.04,38.13 L491.86,36.33 L492.83,34.61 L494.13,33.07 L495.43,31.54 L496.22,29.73 L496.99,27.90 L497.75,26.07 L498.56,24.26 L500.09,22.94 L501.65,21.84 L503.49,22.74 L505.33,23.64 L506.64,25.16 L507.96,26.68 L509.39,28.02 L511.40,28.47 L513.25,27.95 L515.00,26.91 L514.92,29.33 L514.68,31.74 L514.43,34.16 L514.19,36.58 L513.95,38.99 L513.70,41.41 L513.40,43.83 L513.05,46.24 L512.70,48.66 L512.36,51.08 L512.01,53.49 L511.67,55.91 L511.32,58.33 L510.97,60.74 L510.59,63.16 L510.08,65.58 L509.56,67.99 L509.04,70.41 L508.53,72.83 L508.01,75.25 L507.49,77.66 L506.98,80.08 L506.41,82.50 L505.61,84.91 L504.82,87.33 L504.03,89.75 L503.23,92.16 L502.44,94.58 L501.65,97.00 L500.72,99.41 L499.75,101.83 L498.78,104.25 L497.81,106.66 L496.84,109.08 L495.87,111.50 L494.27,113.91 L492.50,116.33 L490.74,118.75 L488.71,121.16 L486.50,123.58 L485.22,123.01 L483.93,122.44 L482.80,121.61 L481.77,120.62 L480.74,119.62 L479.71,118.64 L478.40,119.15 L477.08,119.40 L475.74,119.02 L474.40,118.63 L473.78,117.30 L473.17,115.96 L472.56,114.62 L471.94,113.29 L471.37,111.93 L471.03,110.49 L470.69,109.04 L470.36,107.59 L470.02,106.15 L469.68,104.70 L469.35,103.25 L468.73,101.98 L467.75,100.92 L466.73,99.93 L465.46,99.32 L464.19,98.72 L462.92,98.12 L461.65,97.51 L460.38,96.91 L459.15,96.22 L457.96,95.45 L456.77,94.69 L455.58,93.92 L454.39,93.15 L453.20,92.39 L452.01,91.62 L450.82,90.85 L449.63,90.08 L448.44,89.32 L447.24,88.55 L445.97,87.97 L444.68,87.41 L443.40,86.85 L442.11,86.29 L440.82,85.72 L439.54,85.16 L438.25,84.60 L436.96,84.04 L435.68,83.48 L434.37,82.99 L433.00,82.78 L431.62,82.57 L430.25,82.36 L428.87,82.15 L427.50,81.94 L426.12,81.73 L424.75,81.52 L423.37,81.30 L422.00,81.09 Z" fill="none" stroke="#86c61e" stroke-width="1.45" />
<path d="M407.00,71.57 L409.34,71.47 L411.69,71.36 L414.03,71.25 L416.37,71.15 L418.72,71.04 L421.06,70.93 L423.38,70.61 L425.69,70.26 L428.00,69.91 L430.32,69.56 L432.63,69.21 L434.95,68.86 L437.26,68.51 L439.58,68.16 L441.89,67.81 L444.16,67.31 L446.41,66.70 L448.66,66.08 L450.91,65.47 L453.15,64.86 L455.40,64.25 L457.63,63.60 L459.82,62.82 L462.00,62.04 L464.19,61.26 L466.37,60.49 L468.55,59.71 L470.74,58.93 L472.59,57.69 L474.24,56.18 L475.90,54.67 L477.56,53.17 L478.78,51.41 L479.56,49.40 L480.34,47.39 L481.12,45.38 L481.90,43.37 L482.68,41.36 L483.46,39.35 L484.38,37.40 L485.31,35.44 L486.25,33.49 L487.35,31.63 L488.83,29.97 L490.30,28.32 L491.20,26.35 L492.07,24.37 L492.93,22.39 L493.84,20.44 L495.58,19.01 L497.35,17.83 L499.44,18.80 L501.53,19.77 L503.02,21.41 L504.51,23.06 L506.13,24.51 L508.42,24.99 L510.51,24.43 L512.50,23.30 L512.43,25.83 L512.18,28.35 L511.92,30.87 L511.66,33.39 L511.40,35.91 L511.14,38.43 L510.82,40.95 L510.44,43.47 L510.07,45.99 L509.70,48.51 L509.33,51.03 L508.96,53.55 L508.58,56.07 L508.21,58.59 L507.80,61.11 L507.24,63.63 L506.68,66.15 L506.11,68.67 L505.55,71.19 L504.99,73.71 L504.43,76.23 L503.86,78.75 L503.24,81.27 L502.40,83.79 L501.55,86.31 L500.70,88.83 L499.85,91.36 L499.00,93.88 L498.16,96.40 L497.19,98.92 L496.20,101.44 L495.21,103.96 L494.21,106.48 L493.22,109.00 L492.23,111.52 L490.63,114.04 L488.89,116.56 L487.15,119.08 L485.16,121.60 L483.00,124.12 L481.49,123.55 L479.97,122.97 L478.64,122.13 L477.43,121.13 L476.21,120.12 L474.99,119.13 L473.45,119.64 L471.90,119.89 L470.32,119.51 L468.74,119.12 L468.02,117.77 L467.29,116.42 L466.57,115.07 L465.85,113.72 L465.17,112.35 L464.77,110.89 L464.38,109.43 L463.98,107.97 L463.58,106.51 L463.18,105.05 L462.79,103.58 L462.06,102.29 L460.91,101.23 L459.70,100.22 L458.21,99.61 L456.71,99.00 L455.22,98.39 L453.72,97.78 L452.22,97.17 L450.78,96.48 L449.37,95.70 L447.97,94.93 L446.57,94.15 L445.16,93.38 L443.76,92.60 L442.36,91.83 L440.95,91.05 L439.55,90.28 L438.15,89.50 L436.75,88.73 L435.24,88.14 L433.73,87.57 L432.21,87.01 L430.69,86.44 L429.18,85.87 L427.66,85.31 L426.15,84.74 L424.63,84.18 L423.11,83.61 L421.58,83.11 L419.96,82.90 L418.34,82.69 L416.72,82.47 L415.10,82.26 L413.48,82.05 L411.86,81.84 L410.24,81.62 L408.62,81.41 L407.00,81.20 Z" fill="none" stroke="#2f9a1f" stroke-width="1.45" />
<path d="M407.00,71.60 L409.29,71.49 L411.58,71.37 L413.86,71.26 L416.15,71.14 L418.44,71.03 L420.73,70.91 L422.99,70.57 L425.25,70.19 L427.51,69.82 L429.77,69.44 L432.03,69.06 L434.29,68.69 L436.54,68.31 L438.80,67.93 L441.06,67.56 L443.28,67.01 L445.48,66.36 L447.67,65.70 L449.87,65.04 L452.06,64.38 L454.25,63.72 L456.43,63.03 L458.57,62.19 L460.70,61.35 L462.83,60.52 L464.96,59.68 L467.09,58.84 L469.23,58.00 L471.03,56.67 L472.65,55.05 L474.27,53.43 L475.89,51.81 L477.08,49.92 L477.84,47.76 L478.60,45.60 L479.36,43.44 L480.12,41.28 L480.88,39.12 L481.64,36.96 L482.55,34.85 L483.46,32.75 L484.37,30.65 L485.45,28.65 L486.89,26.87 L488.33,25.09 L489.20,22.98 L490.05,20.85 L490.90,18.72 L491.79,16.62 L493.48,15.08 L495.21,13.81 L497.25,14.85 L499.29,15.90 L500.75,17.66 L502.20,19.43 L503.78,20.99 L506.01,21.52 L508.06,20.91 L510.00,19.70 L509.83,23.55 L509.41,27.38 L509.00,31.21 L508.58,35.05 L508.06,38.87 L507.47,42.68 L506.87,46.49 L506.28,50.30 L505.68,54.11 L505.09,57.92 L504.26,61.68 L503.39,65.44 L502.51,69.19 L501.64,72.95 L500.77,76.71 L499.84,80.45 L498.56,84.08 L497.28,87.72 L495.99,91.36 L494.71,94.99 L493.37,98.61 L491.97,102.20 L490.57,105.79 L489.17,109.39 L487.76,112.98 L485.58,116.14 L483.29,119.24 L480.91,122.27 L478.40,125.20 L476.98,124.61 L475.56,124.03 L474.31,123.17 L473.17,122.14 L472.02,121.11 L470.88,120.11 L469.43,120.63 L467.97,120.89 L466.49,120.49 L465.00,120.10 L464.32,118.72 L463.64,117.34 L462.96,115.97 L462.28,114.59 L461.65,113.19 L461.28,111.70 L460.90,110.21 L460.53,108.72 L460.16,107.23 L459.78,105.74 L459.41,104.25 L458.73,102.93 L457.64,101.84 L456.51,100.82 L455.11,100.19 L453.70,99.57 L452.30,98.95 L450.89,98.33 L449.49,97.70 L448.13,97.00 L446.81,96.20 L445.49,95.41 L444.17,94.62 L442.85,93.83 L441.54,93.04 L440.22,92.25 L438.90,91.46 L437.58,90.67 L436.26,89.88 L434.95,89.09 L433.53,88.49 L432.11,87.91 L430.68,87.33 L429.26,86.75 L427.84,86.17 L426.41,85.60 L424.99,85.02 L423.56,84.44 L422.14,83.86 L420.69,83.36 L419.17,83.14 L417.65,82.92 L416.13,82.70 L414.61,82.49 L413.09,82.27 L411.56,82.05 L410.04,81.83 L408.52,81.62 L407.00,81.40 Z" fill="none" stroke="#0d2616" stroke-width="1.6" />
</g>
<text x="389.30" y="13.20" transform="matrix(1,0,0,1.12,0,-1.584)" font-size="7.9" text-anchor="start" fill="#1a1a1a" stroke="#1a1a1a" stroke-width="0.1" font-weight="normal" >1 mL KPF<tspan font-size="5.5" dy="2">6</tspan><tspan dy="-2"> + x μL LiPF</tspan><tspan font-size="5.5" dy="2">6</tspan></text>
<line x1="388.00" y1="22.40" x2="407.00" y2="22.40" stroke="#8c44f4" stroke-width="1.6" />
<text x="408.80" y="25.30" transform="matrix(1,0,0,1.12,0,-3.036)" font-size="8" text-anchor="start" fill="#1a1a1a" stroke="#1a1a1a" stroke-width="0.1" font-weight="normal" >5</text>
<line x1="388.00" y1="31.90" x2="407.00" y2="31.90" stroke="#7b3af0" stroke-width="1.6" />
<text x="408.80" y="34.80" transform="matrix(1,0,0,1.12,0,-4.176)" font-size="8" text-anchor="start" fill="#1a1a1a" stroke="#1a1a1a" stroke-width="0.1" font-weight="normal" >10</text>
<line x1="388.00" y1="41.40" x2="407.00" y2="41.40" stroke="#a656ea" stroke-width="1.6" />
<text x="408.80" y="44.30" transform="matrix(1,0,0,1.12,0,-5.316)" font-size="8" text-anchor="start" fill="#1a1a1a" stroke="#1a1a1a" stroke-width="0.1" font-weight="normal" >20</text>
<line x1="388.00" y1="50.90" x2="407.00" y2="50.90" stroke="#efa82a" stroke-width="1.6" />
<text x="408.80" y="53.80" transform="matrix(1,0,0,1.12,0,-6.456)" font-size="8" text-anchor="start" fill="#1a1a1a" stroke="#1a1a1a" stroke-width="0.1" font-weight="normal" >30</text>
<line x1="428.00" y1="22.40" x2="447.00" y2="22.40" stroke="#f4ba1e" stroke-width="1.6" />
<text x="448.80" y="25.30" transform="matrix(1,0,0,1.12,0,-3.036)" font-size="8" text-anchor="start" fill="#1a1a1a" stroke="#1a1a1a" stroke-width="0.1" font-weight="normal" >50</text>
<line x1="428.00" y1="31.90" x2="447.00" y2="31.90" stroke="#efb200" stroke-width="1.6" />
<text x="448.80" y="34.80" transform="matrix(1,0,0,1.12,0,-4.176)" font-size="8" text-anchor="start" fill="#1a1a1a" stroke="#1a1a1a" stroke-width="0.1" font-weight="normal" >100</text>
<line x1="428.00" y1="41.40" x2="447.00" y2="41.40" stroke="#86c61e" stroke-width="1.6" />
<text x="448.80" y="44.30" transform="matrix(1,0,0,1.12,0,-5.316)" font-size="8" text-anchor="start" fill="#1a1a1a" stroke="#1a1a1a" stroke-width="0.1" font-weight="normal" >200</text>
<line x1="428.00" y1="50.90" x2="447.00" y2="50.90" stroke="#2f9a1f" stroke-width="1.6" />
<text x="448.80" y="53.80" transform="matrix(1,0,0,1.12,0,-6.456)" font-size="8" text-anchor="start" fill="#1a1a1a" stroke="#1a1a1a" stroke-width="0.1" font-weight="normal" >500</text>
<line x1="508.50" y1="118.90" x2="527.50" y2="118.90" stroke="#6a2cd8" stroke-width="1.7" />
<text x="529.20" y="121.80" transform="matrix(1,0,0,1.12,0,-14.616)" font-size="8" text-anchor="start" fill="#1a1a40" stroke="#1a1a40" stroke-width="0.1" font-weight="normal" >KPF<tspan font-size="5.5" dy="2.5">6</tspan></text>
<line x1="508.50" y1="130.70" x2="527.50" y2="130.70" stroke="#0d2616" stroke-width="1.7" />
<text x="529.20" y="133.70" transform="matrix(1,0,0,1.12,0,-16.044)" font-size="8" text-anchor="start" fill="#1a1a2a" stroke="#1a1a2a" stroke-width="0.1" font-weight="normal" >LiPF<tspan font-size="5.5" dy="2.5">6</tspan></text>
<line x1="50.40" y1="325.70" x2="53.40" y2="325.70" stroke="#262626" stroke-width="1.2" />
<text x="49.10" y="328.90" transform="matrix(1,0,0,1.12,0,-39.468)" font-size="9" text-anchor="end" fill="#1a1a1a" stroke="#1a1a1a" stroke-width="0.22" font-weight="normal" >40</text>
<line x1="51.40" y1="314.86" x2="53.40" y2="314.86" stroke="#262626" stroke-width="1.2" />
<line x1="50.40" y1="304.02" x2="53.40" y2="304.02" stroke="#262626" stroke-width="1.2" />
<text x="49.10" y="307.22" transform="matrix(1,0,0,1.12,0,-36.866)" font-size="9" text-anchor="end" fill="#1a1a1a" stroke="#1a1a1a" stroke-width="0.22" font-weight="normal" >50</text>
<line x1="51.40" y1="293.18" x2="53.40" y2="293.18" stroke="#262626" stroke-width="1.2" />
<line x1="50.40" y1="282.34" x2="53.40" y2="282.34" stroke="#262626" stroke-width="1.2" />
<text x="49.10" y="285.54" transform="matrix(1,0,0,1.12,0,-34.265)" font-size="9" text-anchor="end" fill="#1a1a1a" stroke="#1a1a1a" stroke-width="0.22" font-weight="normal" >60</text>
<line x1="51.40" y1="271.50" x2="53.40" y2="271.50" stroke="#262626" stroke-width="1.2" />
<line x1="50.40" y1="260.66" x2="53.40" y2="260.66" stroke="#262626" stroke-width="1.2" />
<text x="49.10" y="263.86" transform="matrix(1,0,0,1.12,0,-31.663)" font-size="9" text-anchor="end" fill="#1a1a1a" stroke="#1a1a1a" stroke-width="0.22" font-weight="normal" >70</text>
<line x1="51.40" y1="249.82" x2="53.40" y2="249.82" stroke="#262626" stroke-width="1.2" />
<line x1="50.40" y1="238.98" x2="53.40" y2="238.98" stroke="#262626" stroke-width="1.2" />
<text x="49.10" y="242.18" transform="matrix(1,0,0,1.12,0,-29.062)" font-size="9" text-anchor="end" fill="#1a1a1a" stroke="#1a1a1a" stroke-width="0.22" font-weight="normal" >80</text>
<line x1="51.40" y1="228.14" x2="53.40" y2="228.14" stroke="#262626" stroke-width="1.2" />
<line x1="50.40" y1="217.30" x2="53.40" y2="217.30" stroke="#262626" stroke-width="1.2" />
<text x="49.10" y="220.50" transform="matrix(1,0,0,1.12,0,-26.460)" font-size="9" text-anchor="end" fill="#1a1a1a" stroke="#1a1a1a" stroke-width="0.22" font-weight="normal" >90</text>
<line x1="51.40" y1="206.46" x2="53.40" y2="206.46" stroke="#262626" stroke-width="1.2" />
<line x1="50.40" y1="195.62" x2="53.40" y2="195.62" stroke="#262626" stroke-width="1.2" />
<text x="49.10" y="198.82" transform="matrix(1,0,0,1.12,0,-23.858)" font-size="9" text-anchor="end" fill="#1a1a1a" stroke="#1a1a1a" stroke-width="0.22" font-weight="normal" >100</text>
<line x1="68.80" y1="325.70" x2="68.80" y2="328.70" stroke="#262626" stroke-width="1.2" />
<text x="68.80" y="338.00" transform="matrix(1,0,0,1.12,0,-40.560)" font-size="9" text-anchor="middle" fill="#1a1a1a" stroke="#1a1a1a" stroke-width="0.22" font-weight="normal" >0.0</text>
<line x1="83.22" y1="325.70" x2="83.22" y2="327.70" stroke="#262626" stroke-width="1.2" />
<line x1="97.64" y1="325.70" x2="97.64" y2="328.70" stroke="#262626" stroke-width="1.2" />
<text x="97.64" y="338.00" transform="matrix(1,0,0,1.12,0,-40.560)" font-size="9" text-anchor="middle" fill="#1a1a1a" stroke="#1a1a1a" stroke-width="0.22" font-weight="normal" >0.2</text>
<line x1="112.06" y1="325.70" x2="112.06" y2="327.70" stroke="#262626" stroke-width="1.2" />
<line x1="126.48" y1="325.70" x2="126.48" y2="328.70" stroke="#262626" stroke-width="1.2" />
<text x="126.48" y="338.00" transform="matrix(1,0,0,1.12,0,-40.560)" font-size="9" text-anchor="middle" fill="#1a1a1a" stroke="#1a1a1a" stroke-width="0.22" font-weight="normal" >0.4</text>
<line x1="140.90" y1="325.70" x2="140.90" y2="327.70" stroke="#262626" stroke-width="1.2" />
<line x1="155.32" y1="325.70" x2="155.32" y2="328.70" stroke="#262626" stroke-width="1.2" />
<text x="155.32" y="338.00" transform="matrix(1,0,0,1.12,0,-40.560)" font-size="9" text-anchor="middle" fill="#1a1a1a" stroke="#1a1a1a" stroke-width="0.22" font-weight="normal" >0.6</text>
<line x1="169.74" y1="325.70" x2="169.74" y2="327.70" stroke="#262626" stroke-width="1.2" />
<line x1="184.16" y1="325.70" x2="184.16" y2="328.70" stroke="#262626" stroke-width="1.2" />
<text x="184.16" y="338.00" transform="matrix(1,0,0,1.12,0,-40.560)" font-size="9" text-anchor="middle" fill="#1a1a1a" stroke="#1a1a1a" stroke-width="0.22" font-weight="normal" >0.8</text>
<line x1="198.58" y1="325.70" x2="198.58" y2="327.70" stroke="#262626" stroke-width="1.2" />
<line x1="213.00" y1="325.70" x2="213.00" y2="328.70" stroke="#262626" stroke-width="1.2" />
<text x="213.00" y="338.00" transform="matrix(1,0,0,1.12,0,-40.560)" font-size="9" text-anchor="middle" fill="#1a1a1a" stroke="#1a1a1a" stroke-width="0.22" font-weight="normal" >1.0</text>
<text x="141.00" y="354.30"  font-size="10.7" text-anchor="middle" fill="#1a1a1a" stroke="#1a1a1a" stroke-width="0.1" font-weight="normal" >Li<tspan font-size="6" dy="-4">+</tspan><tspan dy="4">/K</tspan><tspan font-size="6" dy="-4">+</tspan><tspan dy="4"> Ratio</tspan></text>
<text transform="translate(27.6,256.5) rotate(-90)" stroke="#1a1a1a" stroke-width="0.1" font-size="10.4" text-anchor="middle" fill="#1a1a1a">Percent of Li<tspan font-size="6.5" dy="-4">+</tspan><tspan dy="4"> Current (%)</tspan></text>
<line x1="72.90" y1="186.10" x2="72.90" y2="325.70" stroke="#1fbf1f" stroke-width="1.4" stroke-dasharray="4.5,2,1.2,2"/>
<text x="79.40" y="200.40" transform="matrix(1,0,0,1.12,0,-24.048)" font-size="9" text-anchor="start" fill="#2ec12e" stroke="#2ec12e" stroke-width="0.1" font-weight="normal" >Li<tspan font-size="5.5" dy="-3.5">+</tspan><tspan dy="3.5">/K</tspan><tspan font-size="5.5" dy="-3.5">+</tspan><tspan dy="3.5"> = 1/33</tspan></text>
<line x1="83.60" y1="203.60" x2="77.20" y2="210.60" stroke="#2ec12e" stroke-width="1.0" />
<path d="M76.00,212.20 L76.70,208.60 L78.70,210.40 Z" fill="#2ec12e" stroke="none" stroke-width="1" />
<path d="M86.10,275.80 C89.73,275.10 100.55,273.47 107.90,271.60 C115.25,269.73 124.17,266.93 130.20,264.60 C136.23,262.27 140.85,259.92 144.10,257.60 C147.35,255.28 148.07,253.48 149.70,250.70 C151.33,247.92 152.27,243.70 153.90,240.90 C155.53,238.10 157.88,236.45 159.50,233.90 C161.12,231.35 162.35,227.45 163.60,225.60 C164.85,223.75 165.83,223.18 167.00,222.80 C168.17,222.42 169.30,222.75 170.60,223.30 C171.90,223.85 173.65,225.72 174.80,226.10 C175.95,226.48 176.67,225.78 177.50,225.60 C178.33,225.42 179.42,224.85 179.80,225.00 C180.18,225.15 180.17,223.15 179.80,226.50 C179.43,229.85 178.90,238.28 177.60,245.10 C176.30,251.92 174.33,259.97 172.00,267.40 C169.67,274.83 166.15,283.90 163.60,289.70 C161.05,295.50 158.47,299.65 156.70,302.20 C154.93,304.75 154.17,304.67 153.00,305.00 C151.83,305.33 150.72,304.67 149.70,304.20 C148.68,303.73 147.92,302.30 146.90,302.20 C145.88,302.10 144.77,303.45 143.60,303.60 C142.43,303.75 140.97,304.48 139.90,303.10 C138.83,301.72 138.12,297.53 137.20,295.30 C136.28,293.07 136.50,291.18 134.40,289.70 C132.30,288.22 129.02,287.42 124.60,286.40 C120.18,285.38 114.32,284.22 107.90,283.60 C101.48,282.98 89.73,282.85 86.10,282.70" fill="none" stroke="#111" stroke-width="1.5" stroke-linejoin="round"/>
<text x="136.00" y="230.20" transform="matrix(1,0,0,1.12,0,-27.624)" font-size="9" text-anchor="start" fill="#1a1a1a" stroke="#1a1a1a" stroke-width="0.22" font-weight="normal" >F-4</text>
<line x1="151.20" y1="225.80" x2="161.80" y2="223.70" stroke="#222" stroke-width="0.9" />
<path d="M164.20,223.30 L160.80,221.90 L161.40,225.20 Z" fill="#222" stroke="none" stroke-width="1" />
<text x="107.80" y="299.90" transform="matrix(1,0,0,1.12,0,-35.988)" font-size="9" text-anchor="start" fill="#2848b8" stroke="#2848b8" stroke-width="0.22" font-weight="normal" >B-3</text>
<line x1="124.60" y1="298.60" x2="133.50" y2="301.20" stroke="#2848b8" stroke-width="0.9" />
<path d="M136.00,302.00 L132.60,299.60 L132.00,302.80 Z" fill="#2848b8" stroke="none" stroke-width="1" />
<text x="166.80" y="299.00" transform="matrix(1,0,0,1.12,0,-35.880)" font-size="9" text-anchor="start" fill="#e8203c" stroke="#e8203c" stroke-width="0.22" font-weight="normal" >B-4</text>
<line x1="165.30" y1="298.80" x2="160.00" y2="302.80" stroke="#e8203c" stroke-width="0.9" />
<path d="M157.80,304.50 L159.00,301.00 L161.20,303.60 Z" fill="#e8203c" stroke="none" stroke-width="1" />
<path d="M68.80,309.70 L68.80,283.20 L69.30,272.50 L72.50,255.40 L74.20,241.50 L82.80,227.00 L97.30,227.00 L140.90,206.80 L213.00,206.10" fill="none" stroke="#111" stroke-width="1.0" fill="none" stroke-dasharray="2.2,1.6"/>
<path d="M68.80,302.70 L68.80,283.20 L69.00,270.50 L69.80,259.00 L71.00,249.50 L73.20,241.50 L75.60,234.20 L82.80,230.00 L97.30,221.50 L140.90,213.80 L213.00,204.20" fill="none" stroke="#ee2030" stroke-width="1.0" fill="none" stroke-dasharray="2.2,1.6"/>
<path d="M68.80,283.20 L68.80,272.10 L69.10,263.70 L70.00,254.50 L71.40,249.80 L75.30,235.90 L82.80,233.30 L97.30,221.50 L140.90,213.80 L213.00,203.40" fill="none" stroke="#2040e0" stroke-width="1.0" fill="none" stroke-dasharray="2.2,1.6"/>
<circle cx="68.80" cy="309.70" r="2.4" fill="#111"/>
<circle cx="68.80" cy="283.20" r="2.4" fill="#111"/>
<circle cx="69.30" cy="272.50" r="2.4" fill="#111"/>
<circle cx="72.50" cy="255.40" r="2.4" fill="#111"/>
<circle cx="74.20" cy="241.50" r="2.4" fill="#111"/>
<circle cx="82.80" cy="227.00" r="2.4" fill="#111"/>
<circle cx="97.30" cy="227.00" r="2.4" fill="#111"/>
<circle cx="140.90" cy="206.80" r="2.4" fill="#111"/>
<circle cx="213.00" cy="206.10" r="2.4" fill="#111"/>
<path d="M68.80,300.00 L65.97,304.59 L71.63,304.59 Z" fill="#ee2030" stroke="none" stroke-width="1" />
<path d="M68.80,280.50 L65.97,285.09 L71.63,285.09 Z" fill="#ee2030" stroke="none" stroke-width="1" />
<path d="M69.00,267.80 L66.17,272.39 L71.83,272.39 Z" fill="#ee2030" stroke="none" stroke-width="1" />
<path d="M69.80,256.30 L66.97,260.89 L72.63,260.89 Z" fill="#ee2030" stroke="none" stroke-width="1" />
<path d="M71.00,246.80 L68.17,251.39 L73.83,251.39 Z" fill="#ee2030" stroke="none" stroke-width="1" />
<path d="M73.20,238.80 L70.37,243.39 L76.03,243.39 Z" fill="#ee2030" stroke="none" stroke-width="1" />
<path d="M75.60,231.50 L72.77,236.09 L78.43,236.09 Z" fill="#ee2030" stroke="none" stroke-width="1" />
<path d="M82.80,227.30 L79.97,231.89 L85.63,231.89 Z" fill="#ee2030" stroke="none" stroke-width="1" />
<path d="M97.30,218.80 L94.47,223.39 L100.13,223.39 Z" fill="#ee2030" stroke="none" stroke-width="1" />
<path d="M140.90,211.10 L138.06,215.69 L143.74,215.69 Z" fill="#ee2030" stroke="none" stroke-width="1" />
<path d="M213.00,201.50 L210.16,206.09 L215.84,206.09 Z" fill="#ee2030" stroke="none" stroke-width="1" />
<path d="M68.80,285.90 L65.97,281.31 L71.63,281.31 Z" fill="#2040e0" stroke="none" stroke-width="1" />
<path d="M68.80,274.80 L65.97,270.21 L71.63,270.21 Z" fill="#2040e0" stroke="none" stroke-width="1" />
<path d="M69.10,266.40 L66.27,261.81 L71.93,261.81 Z" fill="#2040e0" stroke="none" stroke-width="1" />
<path d="M70.00,257.20 L67.17,252.61 L72.83,252.61 Z" fill="#2040e0" stroke="none" stroke-width="1" />
<path d="M71.40,252.50 L68.57,247.91 L74.23,247.91 Z" fill="#2040e0" stroke="none" stroke-width="1" />
<path d="M75.30,238.60 L72.47,234.01 L78.13,234.01 Z" fill="#2040e0" stroke="none" stroke-width="1" />
<path d="M82.80,236.00 L79.97,231.41 L85.63,231.41 Z" fill="#2040e0" stroke="none" stroke-width="1" />
<path d="M97.30,224.20 L94.47,219.61 L100.13,219.61 Z" fill="#2040e0" stroke="none" stroke-width="1" />
<path d="M140.90,216.50 L138.06,211.91 L143.74,211.91 Z" fill="#2040e0" stroke="none" stroke-width="1" />
<path d="M213.00,206.10 L210.16,201.51 L215.84,201.51 Z" fill="#2040e0" stroke="none" stroke-width="1" />
<path d="M187.30,291.90 L202.70,291.90" fill="none" stroke="#111" stroke-width="1.0" fill="none" stroke-dasharray="2.2,1.6"/>
<circle cx="194.90" cy="291.90" r="2.4" fill="#111"/>
<text x="206.60" y="295.10" transform="matrix(1,0,0,1.12,0,-35.412)" font-size="9" text-anchor="start" fill="#1a1a1a" stroke="#1a1a1a" stroke-width="0.22" font-weight="normal" >F-4</text>
<path d="M187.30,302.65 L202.70,302.65" fill="none" stroke="#ee2030" stroke-width="1.0" fill="none" stroke-dasharray="2.2,1.6"/>
<path d="M194.90,299.95 L192.06,304.54 L197.74,304.54 Z" fill="#ee2030" stroke="none" stroke-width="1" />
<text x="206.60" y="305.85" transform="matrix(1,0,0,1.12,0,-36.702)" font-size="9" text-anchor="start" fill="#1a1a1a" stroke="#1a1a1a" stroke-width="0.22" font-weight="normal" >B-4</text>
<path d="M187.30,313.40 L202.70,313.40" fill="none" stroke="#2040e0" stroke-width="1.0" fill="none" stroke-dasharray="2.2,1.6"/>
<path d="M194.90,316.10 L192.06,311.51 L197.74,311.51 Z" fill="#2040e0" stroke="none" stroke-width="1" />
<text x="206.60" y="316.60" transform="matrix(1,0,0,1.12,0,-37.992)" font-size="9" text-anchor="start" fill="#1a1a1a" stroke="#1a1a1a" stroke-width="0.22" font-weight="normal" >B-3</text>
<rect x="53.40" y="186.10" width="174.10" height="139.60" fill="none" stroke="#262626" stroke-width="1.5"/>
<line x1="294.00" y1="325.40" x2="297.00" y2="325.40" stroke="#262626" stroke-width="1.2" />
<text x="292.70" y="328.60" transform="matrix(1,0,0,1.12,0,-39.432)" font-size="9" text-anchor="end" fill="#1a1a1a" stroke="#1a1a1a" stroke-width="0.22" font-weight="normal" >-0.05</text>
<line x1="295.00" y1="311.55" x2="297.00" y2="311.55" stroke="#262626" stroke-width="1.2" />
<line x1="294.00" y1="297.70" x2="297.00" y2="297.70" stroke="#262626" stroke-width="1.2" />
<text x="292.70" y="300.90" transform="matrix(1,0,0,1.12,0,-36.108)" font-size="9" text-anchor="end" fill="#1a1a1a" stroke="#1a1a1a" stroke-width="0.22" font-weight="normal" >0.00</text>
<line x1="295.00" y1="283.85" x2="297.00" y2="283.85" stroke="#262626" stroke-width="1.2" />
<line x1="294.00" y1="270.00" x2="297.00" y2="270.00" stroke="#262626" stroke-width="1.2" />
<text x="292.70" y="273.20" transform="matrix(1,0,0,1.12,0,-32.784)" font-size="9" text-anchor="end" fill="#1a1a1a" stroke="#1a1a1a" stroke-width="0.22" font-weight="normal" >0.05</text>
<line x1="295.00" y1="256.15" x2="297.00" y2="256.15" stroke="#262626" stroke-width="1.2" />
<line x1="294.00" y1="242.30" x2="297.00" y2="242.30" stroke="#262626" stroke-width="1.2" />
<text x="292.70" y="245.50" transform="matrix(1,0,0,1.12,0,-29.460)" font-size="9" text-anchor="end" fill="#1a1a1a" stroke="#1a1a1a" stroke-width="0.22" font-weight="normal" >0.10</text>
<line x1="295.00" y1="228.45" x2="297.00" y2="228.45" stroke="#262626" stroke-width="1.2" />
<line x1="294.00" y1="214.60" x2="297.00" y2="214.60" stroke="#262626" stroke-width="1.2" />
<text x="292.70" y="217.80" transform="matrix(1,0,0,1.12,0,-26.136)" font-size="9" text-anchor="end" fill="#1a1a1a" stroke="#1a1a1a" stroke-width="0.22" font-weight="normal" >0.15</text>
<line x1="295.00" y1="200.75" x2="297.00" y2="200.75" stroke="#262626" stroke-width="1.2" />
<line x1="294.00" y1="186.90" x2="297.00" y2="186.90" stroke="#262626" stroke-width="1.2" />
<text x="292.70" y="190.10" transform="matrix(1,0,0,1.12,0,-22.812)" font-size="9" text-anchor="end" fill="#1a1a1a" stroke="#1a1a1a" stroke-width="0.22" font-weight="normal" >0.20</text>
<line x1="304.93" y1="325.80" x2="304.93" y2="327.80" stroke="#262626" stroke-width="1.0" />
<line x1="311.18" y1="325.80" x2="311.18" y2="327.80" stroke="#262626" stroke-width="1.0" />
<line x1="316.29" y1="325.80" x2="316.29" y2="327.80" stroke="#262626" stroke-width="1.0" />
<line x1="320.61" y1="325.80" x2="320.61" y2="327.80" stroke="#262626" stroke-width="1.0" />
<line x1="324.35" y1="325.80" x2="324.35" y2="327.80" stroke="#262626" stroke-width="1.0" />
<line x1="327.65" y1="325.80" x2="327.65" y2="327.80" stroke="#262626" stroke-width="1.0" />
<line x1="330.60" y1="325.80" x2="330.60" y2="328.80" stroke="#262626" stroke-width="1.2" />
<text x="330.60" y="338.00" transform="matrix(1,0,0,1.12,0,-40.560)" font-size="9" text-anchor="middle" fill="#1a1a1a" stroke="#1a1a1a" stroke-width="0.22" font-weight="normal" >0.001</text>
<line x1="350.02" y1="325.80" x2="350.02" y2="327.80" stroke="#262626" stroke-width="1.0" />
<line x1="361.37" y1="325.80" x2="361.37" y2="327.80" stroke="#262626" stroke-width="1.0" />
<line x1="369.43" y1="325.80" x2="369.43" y2="327.80" stroke="#262626" stroke-width="1.0" />
<line x1="375.68" y1="325.80" x2="375.68" y2="327.80" stroke="#262626" stroke-width="1.0" />
<line x1="380.79" y1="325.80" x2="380.79" y2="327.80" stroke="#262626" stroke-width="1.0" />
<line x1="385.11" y1="325.80" x2="385.11" y2="327.80" stroke="#262626" stroke-width="1.0" />
<line x1="388.85" y1="325.80" x2="388.85" y2="327.80" stroke="#262626" stroke-width="1.0" />
<line x1="392.15" y1="325.80" x2="392.15" y2="327.80" stroke="#262626" stroke-width="1.0" />
<line x1="395.10" y1="325.80" x2="395.10" y2="328.80" stroke="#262626" stroke-width="1.2" />
<text x="395.10" y="338.00" transform="matrix(1,0,0,1.12,0,-40.560)" font-size="9" text-anchor="middle" fill="#1a1a1a" stroke="#1a1a1a" stroke-width="0.22" font-weight="normal" >0.01</text>
<line x1="414.52" y1="325.80" x2="414.52" y2="327.80" stroke="#262626" stroke-width="1.0" />
<line x1="425.87" y1="325.80" x2="425.87" y2="327.80" stroke="#262626" stroke-width="1.0" />
<line x1="433.93" y1="325.80" x2="433.93" y2="327.80" stroke="#262626" stroke-width="1.0" />
<line x1="440.18" y1="325.80" x2="440.18" y2="327.80" stroke="#262626" stroke-width="1.0" />
<line x1="445.29" y1="325.80" x2="445.29" y2="327.80" stroke="#262626" stroke-width="1.0" />
<line x1="449.61" y1="325.80" x2="449.61" y2="327.80" stroke="#262626" stroke-width="1.0" />
<line x1="453.35" y1="325.80" x2="453.35" y2="327.80" stroke="#262626" stroke-width="1.0" />
<line x1="456.65" y1="325.80" x2="456.65" y2="327.80" stroke="#262626" stroke-width="1.0" />
<line x1="459.60" y1="325.80" x2="459.60" y2="328.80" stroke="#262626" stroke-width="1.2" />
<text x="459.60" y="338.00" transform="matrix(1,0,0,1.12,0,-40.560)" font-size="9" text-anchor="middle" fill="#1a1a1a" stroke="#1a1a1a" stroke-width="0.22" font-weight="normal" >0.1</text>
<text x="383.90" y="355.00"  font-size="10.7" text-anchor="middle" fill="#1a1a1a" stroke="#1a1a1a" stroke-width="0.1" font-weight="normal" >Li<tspan font-size="6" dy="-4">+</tspan><tspan dy="4"> Concentration (M)</tspan></text>
<text transform="translate(267.8,255.3) rotate(-90)" stroke="#1a1a1a" stroke-width="0.1" font-size="10.65" text-anchor="middle" fill="#1a1a1a">Potential (V <tspan font-style="italic">vs.</tspan> 0.1 M Li<tspan font-size="6.5" dy="-4">+</tspan><tspan dy="4">/Li)</tspan></text>
<line x1="361.30" y1="201.00" x2="361.30" y2="325.80" stroke="#1fbf1f" stroke-width="1.4" stroke-dasharray="4.5,2,1.2,2"/>
<text x="301.20" y="198.60" transform="matrix(1,0,0,1.12,0,-23.832)" font-size="9" text-anchor="start" fill="#1a1a1a" stroke="#1a1a1a" stroke-width="0.22" font-weight="normal" >Slope (mV/decade)</text>
<text x="362.80" y="306.40" transform="matrix(1,0,0,1.12,0,-36.768)" font-size="9" text-anchor="start" fill="#2ec12e" stroke="#2ec12e" stroke-width="0.1" font-weight="normal" >Li<tspan font-size="5.5" dy="-3.5">+</tspan><tspan dy="3.5">/K</tspan><tspan font-size="5.5" dy="-3.5">+</tspan><tspan dy="3.5"> = 1/33</tspan></text>
<line x1="370.40" y1="309.60" x2="364.50" y2="316.00" stroke="#2ec12e" stroke-width="1.0" />
<path d="M363.20,317.60 L363.70,314.00 L365.90,315.80 Z" fill="#2ec12e" stroke="none" stroke-width="1" />
<path d="M311.20,306.60 L330.70,292.00 L349.50,278.50 L361.00,270.00" fill="none" stroke="#111" stroke-width="0.8" fill="none"/>
<path d="M361.00,270.00 L374.80,269.00 L392.70,263.90 L409.40,257.30 L428.80,253.20 L440.40,248.80 L459.80,246.00" fill="none" stroke="#111" stroke-width="1.0" fill="none" stroke-dasharray="4,1.6,1.2,1.6"/>
<path d="M311.20,264.60 L330.70,254.40 L349.50,243.90 L361.00,239.60" fill="none" stroke="#ee2050" stroke-width="0.8" fill="none"/>
<path d="M361.00,239.60 L374.80,236.30 L392.70,229.30 L409.40,226.90 L428.80,221.70 L440.40,218.20 L459.80,214.30" fill="none" stroke="#ee2050" stroke-width="1.0" fill="none" stroke-dasharray="4,1.6,1.2,1.6"/>
<path d="M311.20,244.90 L330.70,233.20 L349.50,224.00 L361.00,220.70" fill="none" stroke="#2848c8" stroke-width="0.8" fill="none"/>
<path d="M361.00,220.70 L374.80,220.10 L392.70,212.90 L409.40,208.40 L428.80,203.90 L440.40,200.00 L459.80,194.20" fill="none" stroke="#2848c8" stroke-width="1.0" fill="none" stroke-dasharray="4,1.6,1.2,1.6"/>
<circle cx="311.20" cy="306.60" r="2.4" fill="#111"/>
<circle cx="330.70" cy="292.00" r="2.4" fill="#111"/>
<circle cx="349.50" cy="278.50" r="2.4" fill="#111"/>
<circle cx="361.00" cy="270.00" r="2.4" fill="#111"/>
<circle cx="374.80" cy="269.00" r="2.4" fill="#111"/>
<circle cx="392.70" cy="263.90" r="2.4" fill="#111"/>
<circle cx="409.40" cy="257.30" r="2.4" fill="#111"/>
<circle cx="428.80" cy="253.20" r="2.4" fill="#111"/>
<circle cx="440.40" cy="248.80" r="2.4" fill="#111"/>
<circle cx="459.80" cy="246.00" r="2.4" fill="#111"/>
<path d="M311.20,261.80 L308.26,266.56 L314.14,266.56 Z" fill="#ee1c2c" stroke="none" stroke-width="1" />
<path d="M330.70,251.60 L327.76,256.36 L333.64,256.36 Z" fill="#ee1c2c" stroke="none" stroke-width="1" />
<path d="M349.50,241.10 L346.56,245.86 L352.44,245.86 Z" fill="#ee1c2c" stroke="none" stroke-width="1" />
<path d="M361.00,236.80 L358.06,241.56 L363.94,241.56 Z" fill="#ee1c2c" stroke="none" stroke-width="1" />
<path d="M374.80,233.50 L371.86,238.26 L377.74,238.26 Z" fill="#ee1c2c" stroke="none" stroke-width="1" />
<path d="M392.70,226.50 L389.76,231.26 L395.64,231.26 Z" fill="#ee1c2c" stroke="none" stroke-width="1" />
<path d="M409.40,224.10 L406.46,228.86 L412.34,228.86 Z" fill="#ee1c2c" stroke="none" stroke-width="1" />
<path d="M428.80,218.90 L425.86,223.66 L431.74,223.66 Z" fill="#ee1c2c" stroke="none" stroke-width="1" />
<path d="M440.40,215.40 L437.46,220.16 L443.34,220.16 Z" fill="#ee1c2c" stroke="none" stroke-width="1" />
<path d="M459.80,211.50 L456.86,216.26 L462.74,216.26 Z" fill="#ee1c2c" stroke="none" stroke-width="1" />
<path d="M311.20,247.70 L308.26,242.94 L314.14,242.94 Z" fill="#2040e0" stroke="none" stroke-width="1" />
<path d="M330.70,236.00 L327.76,231.24 L333.64,231.24 Z" fill="#2040e0" stroke="none" stroke-width="1" />
<path d="M349.50,226.80 L346.56,222.04 L352.44,222.04 Z" fill="#2040e0" stroke="none" stroke-width="1" />
<path d="M361.00,223.50 L358.06,218.74 L363.94,218.74 Z" fill="#2040e0" stroke="none" stroke-width="1" />
<path d="M374.80,222.90 L371.86,218.14 L377.74,218.14 Z" fill="#2040e0" stroke="none" stroke-width="1" />
<path d="M392.70,215.70 L389.76,210.94 L395.64,210.94 Z" fill="#2040e0" stroke="none" stroke-width="1" />
<path d="M409.40,211.20 L406.46,206.44 L412.34,206.44 Z" fill="#2040e0" stroke="none" stroke-width="1" />
<path d="M428.80,206.70 L425.86,201.94 L431.74,201.94 Z" fill="#2040e0" stroke="none" stroke-width="1" />
<path d="M440.40,202.80 L437.46,198.04 L443.34,198.04 Z" fill="#2040e0" stroke="none" stroke-width="1" />
<path d="M459.80,197.00 L456.86,192.24 L462.74,192.24 Z" fill="#2040e0" stroke="none" stroke-width="1" />
<text x="338.00" y="281.80" transform="matrix(1,0,0,1.12,0,-33.816)" font-size="9" text-anchor="middle" fill="#1a1a1a" stroke="#1a1a1a" stroke-width="0.22" font-weight="normal" >85</text>
<text x="403.10" y="253.50" transform="matrix(1,0,0,1.12,0,-30.420)" font-size="9" text-anchor="middle" fill="#1a1a1a" stroke="#1a1a1a" stroke-width="0.22" font-weight="normal" >31</text>
<text x="337.90" y="246.70" transform="matrix(1,0,0,1.12,0,-29.604)" font-size="9" text-anchor="middle" fill="#e8205a" stroke="#e8205a" stroke-width="0.22" font-weight="normal" >58</text>
<text x="403.10" y="224.70" transform="matrix(1,0,0,1.12,0,-26.964)" font-size="9" text-anchor="middle" fill="#e8205a" stroke="#e8205a" stroke-width="0.22" font-weight="normal" >30</text>
<text x="337.90" y="225.80" transform="matrix(1,0,0,1.12,0,-27.096)" font-size="9" text-anchor="middle" fill="#2c4ca8" stroke="#2c4ca8" stroke-width="0.22" font-weight="normal" >58</text>
<text x="403.10" y="204.40" transform="matrix(1,0,0,1.12,0,-24.528)" font-size="9" text-anchor="middle" fill="#2c4ca8" stroke="#2c4ca8" stroke-width="0.22" font-weight="normal" >32</text>
<circle cx="435.60" cy="281.00" r="2.4" fill="#111"/>
<text x="445.60" y="284.20" transform="matrix(1,0,0,1.12,0,-34.104)" font-size="9" text-anchor="start" fill="#1a1a1a" stroke="#1a1a1a" stroke-width="0.22" font-weight="normal" >F-4</text>
<path d="M435.60,289.30 L432.66,294.06 L438.54,294.06 Z" fill="#ee1c2c" stroke="none" stroke-width="1" />
<text x="445.60" y="295.30" transform="matrix(1,0,0,1.12,0,-35.436)" font-size="9" text-anchor="start" fill="#1a1a1a" stroke="#1a1a1a" stroke-width="0.22" font-weight="normal" >B-4</text>
<path d="M435.60,306.00 L432.66,301.24 L438.54,301.24 Z" fill="#2040e0" stroke="none" stroke-width="1" />
<text x="445.60" y="306.40" transform="matrix(1,0,0,1.12,0,-36.768)" font-size="9" text-anchor="start" fill="#1a1a1a" stroke="#1a1a1a" stroke-width="0.22" font-weight="normal" >B-3</text>
<rect x="297.00" y="186.70" width="174.00" height="139.10" fill="none" stroke="#262626" stroke-width="1.5"/>
<line x1="529.90" y1="325.80" x2="532.90" y2="325.80" stroke="#262626" stroke-width="1.2" />
<text x="528.60" y="329.00" transform="matrix(1,0,0,1.12,0,-39.480)" font-size="9" text-anchor="end" fill="#1a1a1a" stroke="#1a1a1a" stroke-width="0.22" font-weight="normal" >-0.14</text>
<line x1="530.90" y1="310.40" x2="532.90" y2="310.40" stroke="#262626" stroke-width="1.2" />
<line x1="529.90" y1="295.00" x2="532.90" y2="295.00" stroke="#262626" stroke-width="1.2" />
<text x="528.60" y="298.20" transform="matrix(1,0,0,1.12,0,-35.784)" font-size="9" text-anchor="end" fill="#1a1a1a" stroke="#1a1a1a" stroke-width="0.22" font-weight="normal" >-0.12</text>
<line x1="530.90" y1="279.60" x2="532.90" y2="279.60" stroke="#262626" stroke-width="1.2" />
<line x1="529.90" y1="264.20" x2="532.90" y2="264.20" stroke="#262626" stroke-width="1.2" />
<text x="528.60" y="267.40" transform="matrix(1,0,0,1.12,0,-32.088)" font-size="9" text-anchor="end" fill="#1a1a1a" stroke="#1a1a1a" stroke-width="0.22" font-weight="normal" >-0.10</text>
<line x1="530.90" y1="248.80" x2="532.90" y2="248.80" stroke="#262626" stroke-width="1.2" />
<line x1="529.90" y1="233.40" x2="532.90" y2="233.40" stroke="#262626" stroke-width="1.2" />
<text x="528.60" y="236.60" transform="matrix(1,0,0,1.12,0,-28.392)" font-size="9" text-anchor="end" fill="#1a1a1a" stroke="#1a1a1a" stroke-width="0.22" font-weight="normal" >-0.08</text>
<line x1="530.90" y1="218.00" x2="532.90" y2="218.00" stroke="#262626" stroke-width="1.2" />
<line x1="529.90" y1="202.60" x2="532.90" y2="202.60" stroke="#262626" stroke-width="1.2" />
<text x="528.60" y="205.80" transform="matrix(1,0,0,1.12,0,-24.696)" font-size="9" text-anchor="end" fill="#1a1a1a" stroke="#1a1a1a" stroke-width="0.22" font-weight="normal" >-0.06</text>
<line x1="530.90" y1="187.20" x2="532.90" y2="187.20" stroke="#262626" stroke-width="1.2" />
<line x1="547.68" y1="325.80" x2="547.68" y2="327.80" stroke="#262626" stroke-width="1.0" />
<line x1="563.23" y1="325.80" x2="563.23" y2="327.80" stroke="#262626" stroke-width="1.0" />
<line x1="574.26" y1="325.80" x2="574.26" y2="327.80" stroke="#262626" stroke-width="1.0" />
<line x1="582.82" y1="325.80" x2="582.82" y2="327.80" stroke="#262626" stroke-width="1.0" />
<line x1="589.81" y1="325.80" x2="589.81" y2="327.80" stroke="#262626" stroke-width="1.0" />
<line x1="595.72" y1="325.80" x2="595.72" y2="327.80" stroke="#262626" stroke-width="1.0" />
<line x1="600.84" y1="325.80" x2="600.84" y2="327.80" stroke="#262626" stroke-width="1.0" />
<line x1="605.36" y1="325.80" x2="605.36" y2="327.80" stroke="#262626" stroke-width="1.0" />
<line x1="609.40" y1="325.80" x2="609.40" y2="328.80" stroke="#262626" stroke-width="1.2" />
<text x="609.40" y="338.00" transform="matrix(1,0,0,1.12,0,-40.560)" font-size="9" text-anchor="middle" fill="#1a1a1a" stroke="#1a1a1a" stroke-width="0.22" font-weight="normal" >0.01</text>
<line x1="635.98" y1="325.80" x2="635.98" y2="327.80" stroke="#262626" stroke-width="1.0" />
<line x1="651.53" y1="325.80" x2="651.53" y2="327.80" stroke="#262626" stroke-width="1.0" />
<line x1="662.56" y1="325.80" x2="662.56" y2="327.80" stroke="#262626" stroke-width="1.0" />
<line x1="671.12" y1="325.80" x2="671.12" y2="327.80" stroke="#262626" stroke-width="1.0" />
<line x1="678.11" y1="325.80" x2="678.11" y2="327.80" stroke="#262626" stroke-width="1.0" />
<line x1="684.02" y1="325.80" x2="684.02" y2="327.80" stroke="#262626" stroke-width="1.0" />
<line x1="689.14" y1="325.80" x2="689.14" y2="327.80" stroke="#262626" stroke-width="1.0" />
<line x1="693.66" y1="325.80" x2="693.66" y2="327.80" stroke="#262626" stroke-width="1.0" />
<line x1="697.70" y1="325.80" x2="697.70" y2="328.80" stroke="#262626" stroke-width="1.2" />
<text x="697.70" y="338.00" transform="matrix(1,0,0,1.12,0,-40.560)" font-size="9" text-anchor="middle" fill="#1a1a1a" stroke="#1a1a1a" stroke-width="0.22" font-weight="normal" >0.1</text>
<text x="619.60" y="355.00"  font-size="10.7" text-anchor="middle" fill="#1a1a1a" stroke="#1a1a1a" stroke-width="0.1" font-weight="normal" >Li<tspan font-size="6" dy="-4">+</tspan><tspan dy="4"> Concentration (M)</tspan></text>
<text transform="translate(501.0,255.5) rotate(-90)" stroke="#1a1a1a" stroke-width="0.1" font-size="10" text-anchor="middle" fill="#1a1a1a">E<tspan font-size="5.5" dy="2.5">shift</tspan><tspan dy="-2.5"> (V)</tspan></text>
<path d="M533.60,277.87 L537.74,276.12 L541.88,274.34 L546.02,272.54 L550.16,270.70 L554.30,268.84 L558.44,266.95 L562.58,265.04 L566.72,263.09 L570.86,261.12 L575.00,259.12 L579.14,257.10 L583.28,255.04 L587.42,252.96 L591.56,250.86 L595.70,248.72 L599.84,246.56 L603.98,244.38 L608.12,242.19 L612.26,239.99 L616.40,237.78 L620.54,235.56 L624.68,233.34 L628.82,231.11 L632.96,228.87 L637.10,226.61 L641.24,224.36 L645.38,222.09 L649.52,219.81 L653.66,217.53 L657.80,215.24 L661.94,212.93 L666.08,210.62 L670.22,208.31 L674.36,205.98 L678.50,203.64 L682.64,201.30 L686.78,198.94 L690.92,196.58 L695.06,194.21 L699.20,191.83 L699.20,207.95 L695.06,209.93 L690.92,211.92 L686.78,213.91 L682.64,215.91 L678.50,217.92 L674.36,219.94 L670.22,221.97 L666.08,224.01 L661.94,226.05 L657.80,228.11 L653.66,230.17 L649.52,232.24 L645.38,234.32 L641.24,236.41 L637.10,238.50 L632.96,240.61 L628.82,242.72 L624.68,244.84 L620.54,246.98 L616.40,249.11 L612.26,251.26 L608.12,253.42 L603.98,255.58 L599.84,257.76 L595.70,259.95 L591.56,262.17 L587.42,264.42 L583.28,266.69 L579.14,268.99 L575.00,271.32 L570.86,273.68 L566.72,276.06 L562.58,278.48 L558.44,280.92 L554.30,283.38 L550.16,285.88 L546.02,288.40 L541.88,290.95 L537.74,293.52 L533.60,296.13 Z" fill="#f2e2da" stroke="none" stroke-width="1" />
<path d="M533.60,280.17 L537.74,278.42 L541.88,276.64 L546.02,274.84 L550.16,273.00 L554.30,271.14 L558.44,269.25 L562.58,267.34 L566.72,265.39 L570.86,263.42 L575.00,261.42 L579.14,259.40 L583.28,257.34 L587.42,255.26 L591.56,253.16 L595.70,251.02 L599.84,248.86 L603.98,246.68 L608.12,244.49 L612.26,242.29 L616.40,240.08 L620.54,237.86 L624.68,235.64 L628.82,233.41 L632.96,231.17 L637.10,228.91 L641.24,226.66 L645.38,224.39 L649.52,222.11 L653.66,219.83 L657.80,217.54 L661.94,215.23 L666.08,212.92 L670.22,210.61 L674.36,208.28 L678.50,205.94 L682.64,203.60 L686.78,201.24 L690.92,198.88 L695.06,196.51 L699.20,194.13 L699.20,205.65 L695.06,207.63 L690.92,209.62 L686.78,211.61 L682.64,213.61 L678.50,215.62 L674.36,217.64 L670.22,219.67 L666.08,221.71 L661.94,223.75 L657.80,225.81 L653.66,227.87 L649.52,229.94 L645.38,232.02 L641.24,234.11 L637.10,236.20 L632.96,238.31 L628.82,240.42 L624.68,242.54 L620.54,244.68 L616.40,246.81 L612.26,248.96 L608.12,251.12 L603.98,253.28 L599.84,255.46 L595.70,257.65 L591.56,259.87 L587.42,262.12 L583.28,264.39 L579.14,266.69 L575.00,269.02 L570.86,271.38 L566.72,273.76 L562.58,276.18 L558.44,278.62 L554.30,281.08 L550.16,283.58 L546.02,286.10 L541.88,288.65 L537.74,291.22 L533.60,293.83 Z" fill="#f79ccb" stroke="none" stroke-width="1" />
<path d="M533.60,257.00 L699.20,212.29" fill="none" stroke="#e83040" stroke-width="0.9" fill="none" stroke-dasharray="3.5,1.5,1,1.5"/>
<path d="M533.60,313.50 L699.20,206.69" fill="none" stroke="#2848b0" stroke-width="0.9" fill="none" stroke-dasharray="3.5,1.5,1,1.5"/>
<path d="M533.60,285.00 L699.20,210.48" fill="none" stroke="#202020" stroke-width="0.9" fill="none" stroke-dasharray="3.5,1.5,1,1.5"/>
<rect x="544.30" y="303.50" width="3.6" height="3.6" fill="#2050e0"/>
<rect x="559.80" y="293.20" width="3.6" height="3.6" fill="#2050e0"/>
<rect x="578.70" y="280.00" width="3.6" height="3.6" fill="#2050e0"/>
<rect x="604.40" y="263.50" width="3.6" height="3.6" fill="#2050e0"/>
<rect x="627.80" y="248.40" width="3.6" height="3.6" fill="#2050e0"/>
<rect x="655.00" y="233.50" width="3.6" height="3.6" fill="#2050e0"/>
<rect x="544.30" y="251.00" width="3.6" height="3.6" fill="#ee1c2c"/>
<rect x="559.80" y="246.20" width="3.6" height="3.6" fill="#ee1c2c"/>
<rect x="578.70" y="240.30" width="3.6" height="3.6" fill="#ee1c2c"/>
<rect x="604.40" y="233.00" width="3.6" height="3.6" fill="#ee1c2c"/>
<rect x="627.80" y="226.80" width="3.6" height="3.6" fill="#ee1c2c"/>
<rect x="655.00" y="222.80" width="3.6" height="3.6" fill="#ee1c2c"/>
<rect x="670.60" y="226.50" width="3.6" height="3.6" fill="#ee1c2c"/>
<rect x="544.30" y="277.10" width="3.6" height="3.6" fill="#111"/>
<rect x="559.80" y="268.70" width="3.6" height="3.6" fill="#111"/>
<rect x="578.70" y="260.80" width="3.6" height="3.6" fill="#111"/>
<rect x="604.40" y="249.30" width="3.6" height="3.6" fill="#111"/>
<rect x="655.00" y="229.40" width="3.6" height="3.6" fill="#111"/>
<path d="M561.20,263.80 L561.99,265.71 L564.05,265.87 L562.48,267.22 L562.96,269.23 L561.20,268.15 L559.44,269.23 L559.92,267.22 L558.35,265.87 L560.41,265.71 Z" fill="#34d034" stroke="none" stroke-width="1" />
<path d="M561.20,268.20 L561.99,270.11 L564.05,270.27 L562.48,271.62 L562.96,273.63 L561.20,272.55 L559.44,273.63 L559.92,271.62 L558.35,270.27 L560.41,270.11 Z" fill="#9848d8" stroke="none" stroke-width="1" />
<path d="M561.20,271.70 L561.99,273.61 L564.05,273.77 L562.48,275.12 L562.96,277.13 L561.20,276.05 L559.44,277.13 L559.92,275.12 L558.35,273.77 L560.41,273.61 Z" fill="#88f088" stroke="none" stroke-width="1" />
<path d="M580.30,262.90 L581.09,264.81 L583.15,264.97 L581.58,266.32 L582.06,268.33 L580.30,267.25 L578.54,268.33 L579.02,266.32 L577.45,264.97 L579.51,264.81 Z" fill="#34d034" stroke="none" stroke-width="1" />
<path d="M580.30,259.00 L581.09,260.91 L583.15,261.07 L581.58,262.42 L582.06,264.43 L580.30,263.35 L578.54,264.43 L579.02,262.42 L577.45,261.07 L579.51,260.91 Z" fill="#9848d8" stroke="none" stroke-width="1" />
<path d="M580.30,269.40 L581.09,271.31 L583.15,271.47 L581.58,272.82 L582.06,274.83 L580.30,273.75 L578.54,274.83 L579.02,272.82 L577.45,271.47 L579.51,271.31 Z" fill="#88f088" stroke="none" stroke-width="1" />
<path d="M606.20,246.60 L606.99,248.51 L609.05,248.67 L607.48,250.02 L607.96,252.03 L606.20,250.95 L604.44,252.03 L604.92,250.02 L603.35,248.67 L605.41,248.51 Z" fill="#34d034" stroke="none" stroke-width="1" />
<path d="M606.20,238.90 L606.99,240.81 L609.05,240.97 L607.48,242.32 L607.96,244.33 L606.20,243.25 L604.44,244.33 L604.92,242.32 L603.35,240.97 L605.41,240.81 Z" fill="#9848d8" stroke="none" stroke-width="1" />
<path d="M606.20,250.20 L606.99,252.11 L609.05,252.27 L607.48,253.62 L607.96,255.63 L606.20,254.55 L604.44,255.63 L604.92,253.62 L603.35,252.27 L605.41,252.11 Z" fill="#88f088" stroke="none" stroke-width="1" />
<path d="M629.40,228.00 L630.19,229.91 L632.25,230.07 L630.68,231.42 L631.16,233.43 L629.40,232.35 L627.64,233.43 L628.12,231.42 L626.55,230.07 L628.61,229.91 Z" fill="#34d034" stroke="none" stroke-width="1" />
<path d="M629.40,233.00 L630.19,234.91 L632.25,235.07 L630.68,236.42 L631.16,238.43 L629.40,237.35 L627.64,238.43 L628.12,236.42 L626.55,235.07 L628.61,234.91 Z" fill="#9848d8" stroke="none" stroke-width="1" />
<path d="M629.40,237.50 L630.19,239.41 L632.25,239.57 L630.68,240.92 L631.16,242.93 L629.40,241.85 L627.64,242.93 L628.12,240.92 L626.55,239.57 L628.61,239.41 Z" fill="#88f088" stroke="none" stroke-width="1" />
<path d="M656.80,217.10 L657.59,219.01 L659.65,219.17 L658.08,220.52 L658.56,222.53 L656.80,221.45 L655.04,222.53 L655.52,220.52 L653.95,219.17 L656.01,219.01 Z" fill="#34d034" stroke="none" stroke-width="1" />
<path d="M656.80,219.30 L657.59,221.21 L659.65,221.37 L658.08,222.72 L658.56,224.73 L656.80,223.65 L655.04,224.73 L655.52,222.72 L653.95,221.37 L656.01,221.21 Z" fill="#9848d8" stroke="none" stroke-width="1" />
<path d="M656.80,223.50 L657.59,225.41 L659.65,225.57 L658.08,226.92 L658.56,228.93 L656.80,227.85 L655.04,228.93 L655.52,226.92 L653.95,225.57 L656.01,225.41 Z" fill="#88f088" stroke="none" stroke-width="1" />
<path d="M672.40,204.80 L673.19,206.71 L675.25,206.87 L673.68,208.22 L674.16,210.23 L672.40,209.15 L670.64,210.23 L671.12,208.22 L669.55,206.87 L671.61,206.71 Z" fill="#34d034" stroke="none" stroke-width="1" />
<path d="M672.40,209.30 L673.19,211.21 L675.25,211.37 L673.68,212.72 L674.16,214.73 L672.40,213.65 L670.64,214.73 L671.12,212.72 L669.55,211.37 L671.61,211.21 Z" fill="#9848d8" stroke="none" stroke-width="1" />
<path d="M672.40,214.20 L673.19,216.11 L675.25,216.27 L673.68,217.62 L674.16,219.63 L672.40,218.55 L670.64,219.63 L671.12,217.62 L669.55,216.27 L671.61,216.11 Z" fill="#88f088" stroke="none" stroke-width="1" />
<text x="537.30" y="197.00" transform="matrix(1,0,0,1.12,0,-23.640)" font-size="8.5" text-anchor="start" fill="#1a1a1a" stroke="#1a1a1a" stroke-width="0.1" font-weight="normal" >Calculated Results with Linear Fit:</text>
<rect x="544.20" y="202.80" width="3.6" height="3.6" fill="#111"/>
<text x="558.20" y="207.60" transform="matrix(1,0,0,1.12,0,-24.912)" font-size="8.5" text-anchor="start" fill="#1a1a1a" stroke="#1a1a1a" stroke-width="0.1" font-weight="normal" ><tspan font-style="italic">x</tspan>,<tspan font-style="italic">y</tspan> = 1,1</text>
<rect x="544.20" y="213.15" width="3.6" height="3.6" fill="#2050e0"/>
<text x="558.20" y="217.95" transform="matrix(1,0,0,1.12,0,-26.154)" font-size="8.5" text-anchor="start" fill="#1a1a1a" stroke="#1a1a1a" stroke-width="0.1" font-weight="normal" ><tspan font-style="italic">x</tspan>,<tspan font-style="italic">y</tspan> = 2,1</text>
<rect x="544.20" y="223.50" width="3.6" height="3.6" fill="#ee1c2c"/>
<text x="558.20" y="228.30" transform="matrix(1,0,0,1.12,0,-27.396)" font-size="8.5" text-anchor="start" fill="#1a1a1a" stroke="#1a1a1a" stroke-width="0.1" font-weight="normal" ><tspan font-style="italic">x</tspan>,<tspan font-style="italic">y</tspan> = 1,2</text>
<text x="619.60" y="269.70" transform="matrix(1,0,0,1.12,0,-32.364)" font-size="8.5" text-anchor="start" fill="#1a1a1a" stroke="#1a1a1a" stroke-width="0.1" font-weight="normal" >Experimental Results:</text>
<path d="M629.00,274.90 L629.79,276.81 L631.85,276.97 L630.28,278.32 L630.76,280.33 L629.00,279.25 L627.24,280.33 L627.72,278.32 L626.15,276.97 L628.21,276.81 Z" fill="#34d034" stroke="none" stroke-width="1" />
<text x="641.20" y="280.90" transform="matrix(1,0,0,1.12,0,-33.708)" font-size="8.5" text-anchor="start" fill="#1a1a1a" stroke="#1a1a1a" stroke-width="0.1" font-weight="normal" >F-4</text>
<path d="M629.00,284.60 L629.79,286.51 L631.85,286.67 L630.28,288.02 L630.76,290.03 L629.00,288.95 L627.24,290.03 L627.72,288.02 L626.15,286.67 L628.21,286.51 Z" fill="#9848d8" stroke="none" stroke-width="1" />
<text x="641.20" y="290.60" transform="matrix(1,0,0,1.12,0,-34.872)" font-size="8.5" text-anchor="start" fill="#1a1a1a" stroke="#1a1a1a" stroke-width="0.1" font-weight="normal" >B-4</text>
<path d="M629.00,294.30 L629.79,296.21 L631.85,296.37 L630.28,297.72 L630.76,299.73 L629.00,298.65 L627.24,299.73 L627.72,297.72 L626.15,296.37 L628.21,296.21 Z" fill="#88f088" stroke="none" stroke-width="1" />
<text x="641.20" y="300.30" transform="matrix(1,0,0,1.12,0,-36.036)" font-size="8.5" text-anchor="start" fill="#1a1a1a" stroke="#1a1a1a" stroke-width="0.1" font-weight="normal" >B-3</text>
<rect x="597.2" y="303.3" width="18.9" height="9.3" fill="#f99fcd"/>
<rect x="597.2" y="313.9" width="18.9" height="9.4" fill="#f2e2de"/>
<text x="618.70" y="311.00" transform="matrix(1,0,0,1.12,0,-37.320)" font-size="8.5" text-anchor="start" fill="#1a1a1a" stroke="#1a1a1a" stroke-width="0.1" font-weight="normal" >95% Confidence Band</text>
<text x="618.70" y="320.30" transform="matrix(1,0,0,1.12,0,-38.436)" font-size="8.5" text-anchor="start" fill="#1a1a1a" stroke="#1a1a1a" stroke-width="0.1" font-weight="normal" >95% Prediction Band</text>
<rect x="532.90" y="186.10" width="171.90" height="139.70" fill="none" stroke="#262626" stroke-width="1.5"/>
</g></svg></body></html>
